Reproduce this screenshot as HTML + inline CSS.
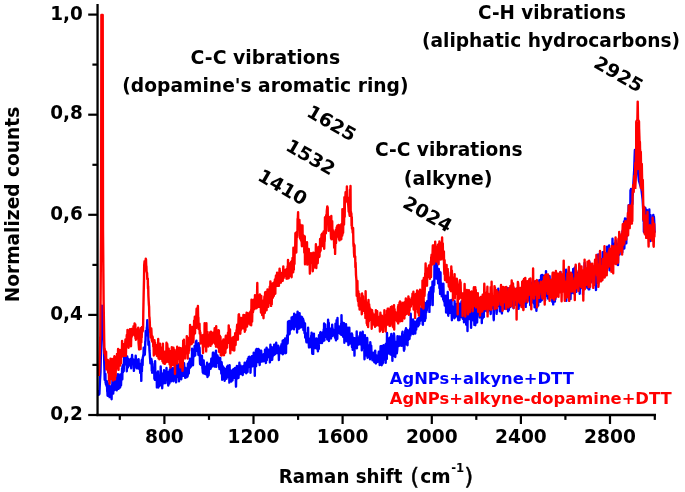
<!DOCTYPE html>
<html><head><meta charset="utf-8"><title>Raman spectra</title>
<style>html,body{margin:0;padding:0;background:#fff}body{width:685px;height:492px;overflow:hidden}</style>
</head><body>
<svg width="685" height="492" viewBox="0 0 685 492" style="display:block" font-family='"DejaVu Sans", "Liberation Sans", sans-serif' font-weight="bold" fill="#000">
<rect width="685" height="492" fill="#fff"/>
<path d="M98.3,396 L98.8,391 L99.4,394 L100,380 L100.5,372 L101.2,340 L101.9,305.6 L102.4,306 L103.5,336 L104.0,352 L104.4,368 L104.7,379.8 L104.9,378.9 L105.1,380.4 L105.4,373.9 L105.6,382.7 L105.8,383.0 L106.0,384.6 L106.3,382.8 L106.5,385.8 L106.7,384.4 L106.9,381.3 L107.2,391.3 L107.4,391.7 L107.6,395.8 L107.8,389.2 L108.0,387.7 L108.3,387.6 L108.5,383.5 L108.7,394.5 L108.9,385.6 L109.2,385.4 L109.4,389.7 L109.6,397.1 L109.8,391.9 L110.1,386.6 L110.3,388.0 L110.5,393.9 L110.7,390.7 L110.9,388.2 L111.2,390.3 L111.4,394.2 L111.6,399.2 L111.8,385.1 L112.1,387.5 L112.3,386.4 L112.5,379.2 L112.7,385.4 L113.0,384.7 L113.2,393.6 L113.4,387.9 L113.6,381.2 L113.8,390.7 L114.1,386.1 L114.3,379.9 L114.5,384.5 L114.7,384.3 L115.0,382.8 L115.2,386.4 L115.4,376.3 L115.6,384.5 L115.8,389.7 L116.1,388.7 L116.3,389.5 L116.5,389.2 L116.7,390.4 L117.0,378.9 L117.2,387.0 L117.4,375.1 L117.6,380.2 L117.9,374.2 L118.1,386.6 L118.3,387.5 L118.5,380.6 L118.7,388.8 L119.0,377.9 L119.2,381.1 L119.4,380.8 L119.6,375.3 L119.9,381.4 L120.1,387.5 L120.3,374.5 L120.5,382.4 L120.8,377.6 L121.0,385.5 L121.2,379.7 L121.4,380.2 L121.6,379.5 L121.9,376.6 L122.1,368.4 L122.3,379.2 L122.5,366.1 L122.8,371.8 L123.0,372.2 L123.2,364.8 L123.4,367.9 L123.7,371.1 L123.9,364.7 L124.1,359.8 L124.3,349.9 L124.5,357.1 L124.8,358.6 L125.0,359.1 L125.2,357.3 L125.4,363.2 L125.7,359.3 L125.9,361.4 L126.1,364.9 L126.3,358.3 L126.6,360.8 L126.8,371.3 L127.0,365.8 L127.2,356.5 L127.4,361.8 L127.7,364.6 L127.9,367.5 L128.1,362.8 L128.3,359.9 L128.6,359.1 L128.8,365.0 L129.0,363.6 L129.2,360.0 L129.5,361.5 L129.7,360.5 L129.9,365.4 L130.1,359.4 L130.3,364.5 L130.6,366.0 L130.8,364.5 L131.0,358.8 L131.2,368.2 L131.5,359.5 L131.7,364.3 L131.9,359.3 L132.1,355.0 L132.4,363.5 L132.6,363.8 L132.8,362.2 L133.0,363.8 L133.2,359.8 L133.5,359.5 L133.7,361.9 L133.9,370.9 L134.1,366.2 L134.4,360.5 L134.6,365.1 L134.8,360.7 L135.0,360.8 L135.3,366.5 L135.5,360.5 L135.7,355.6 L135.9,358.9 L136.1,363.2 L136.4,363.4 L136.6,368.2 L136.8,359.8 L137.0,366.1 L137.3,364.8 L137.5,362.3 L137.7,366.6 L137.9,365.1 L138.1,359.7 L138.4,368.6 L138.6,359.3 L138.8,365.4 L139.0,365.8 L139.3,368.2 L139.5,363.8 L139.7,367.4 L139.9,367.6 L140.2,373.0 L140.4,365.9 L140.6,370.3 L140.8,369.4 L141.0,365.1 L141.3,380.9 L141.5,367.7 L141.7,360.3 L141.9,371.4 L142.2,359.4 L142.4,364.3 L142.6,365.1 L142.8,357.2 L143.1,356.8 L143.3,355.0 L143.5,355.4 L143.7,347.7 L143.9,348.0 L144.2,351.4 L144.4,355.1 L144.6,351.7 L144.8,354.6 L145.1,348.3 L145.3,341.3 L145.5,341.1 L145.7,331.0 L146.0,333.7 L146.2,331.6 L146.4,335.3 L146.6,335.1 L146.8,328.0 L147.1,326.1 L147.3,320.1 L147.5,324.6 L147.7,329.0 L148.0,332.6 L148.2,330.1 L148.4,344.8 L148.6,344.2 L148.9,341.4 L149.1,342.3 L149.3,345.9 L149.5,350.7 L149.7,352.8 L150.0,357.7 L150.2,360.0 L150.4,363.4 L150.6,363.3 L150.9,358.8 L151.1,361.7 L151.3,359.2 L151.5,359.2 L151.8,370.8 L152.0,361.4 L152.2,372.8 L152.4,363.6 L152.6,367.0 L152.9,371.4 L153.1,367.7 L153.3,370.1 L153.5,368.2 L153.8,368.1 L154.0,370.2 L154.2,368.5 L154.4,378.7 L154.7,371.3 L154.9,379.7 L155.1,361.1 L155.3,373.1 L155.5,375.7 L155.8,372.4 L156.0,378.7 L156.2,377.1 L156.4,373.5 L156.7,376.9 L156.9,387.4 L157.1,376.7 L157.3,377.3 L157.6,374.4 L157.8,377.2 L158.0,371.5 L158.2,376.1 L158.4,387.5 L158.7,381.5 L158.9,379.7 L159.1,381.6 L159.3,384.9 L159.6,379.4 L159.8,385.7 L160.0,381.4 L160.2,377.5 L160.4,384.1 L160.7,366.5 L160.9,374.2 L161.1,377.8 L161.3,372.7 L161.6,375.9 L161.8,373.8 L162.0,373.7 L162.2,388.2 L162.5,379.2 L162.7,376.2 L162.9,382.1 L163.1,375.4 L163.3,380.2 L163.6,377.9 L163.8,383.3 L164.0,370.2 L164.2,379.6 L164.5,376.8 L164.7,371.2 L164.9,380.8 L165.1,372.4 L165.4,383.1 L165.6,378.3 L165.8,379.1 L166.0,376.4 L166.2,379.9 L166.5,368.0 L166.7,376.3 L166.9,373.2 L167.1,377.1 L167.4,375.6 L167.6,378.4 L167.8,372.1 L168.0,383.5 L168.3,385.5 L168.5,374.6 L168.7,375.4 L168.9,376.6 L169.1,380.8 L169.4,383.5 L169.6,370.1 L169.8,372.5 L170.0,370.6 L170.3,370.3 L170.5,368.0 L170.7,376.5 L170.9,369.9 L171.2,381.3 L171.4,378.7 L171.6,370.3 L171.8,370.3 L172.0,372.0 L172.3,380.6 L172.5,370.9 L172.7,368.1 L172.9,374.2 L173.2,376.0 L173.4,371.5 L173.6,381.2 L173.8,375.2 L174.1,376.1 L174.3,370.4 L174.5,373.9 L174.7,373.3 L174.9,364.2 L175.2,375.1 L175.4,366.1 L175.6,373.7 L175.8,367.4 L176.1,382.4 L176.3,375.0 L176.5,377.3 L176.7,377.5 L177.0,367.8 L177.2,363.6 L177.4,371.9 L177.6,377.1 L177.8,373.6 L178.1,376.6 L178.3,377.2 L178.5,366.7 L178.7,374.3 L179.0,381.4 L179.2,370.5 L179.4,364.1 L179.6,371.8 L179.9,370.7 L180.1,374.5 L180.3,368.8 L180.5,373.0 L180.7,363.0 L181.0,376.1 L181.2,379.2 L181.4,377.9 L181.6,365.8 L181.9,373.6 L182.1,359.4 L182.3,373.4 L182.5,371.8 L182.7,367.8 L183.0,373.5 L183.2,372.5 L183.4,375.9 L183.6,372.4 L183.9,372.8 L184.1,363.3 L184.3,366.7 L184.5,369.6 L184.8,372.8 L185.0,371.5 L185.2,377.9 L185.4,367.6 L185.6,370.3 L185.9,372.4 L186.1,370.2 L186.3,373.3 L186.5,368.7 L186.8,377.2 L187.0,369.6 L187.2,375.5 L187.4,370.2 L187.7,376.4 L187.9,363.7 L188.1,371.6 L188.3,367.2 L188.5,369.7 L188.8,373.5 L189.0,363.1 L189.2,362.0 L189.4,363.0 L189.7,368.1 L189.9,358.6 L190.1,366.8 L190.3,360.5 L190.6,360.7 L190.8,363.7 L191.0,366.6 L191.2,361.3 L191.4,361.0 L191.7,361.9 L191.9,360.0 L192.1,348.7 L192.3,357.4 L192.6,358.7 L192.8,362.1 L193.0,365.2 L193.2,358.3 L193.5,354.8 L193.7,349.4 L193.9,353.0 L194.1,355.0 L194.3,356.1 L194.6,346.0 L194.8,350.0 L195.0,351.7 L195.2,355.4 L195.5,347.7 L195.7,343.5 L195.9,342.1 L196.1,342.8 L196.4,340.7 L196.6,346.8 L196.8,348.7 L197.0,348.0 L197.2,350.8 L197.5,344.5 L197.7,348.9 L197.9,346.4 L198.1,349.1 L198.4,355.0 L198.6,350.4 L198.8,343.3 L199.0,351.0 L199.3,350.0 L199.5,347.6 L199.7,351.6 L199.9,360.1 L200.1,364.1 L200.4,355.8 L200.6,363.1 L200.8,364.9 L201.0,355.7 L201.3,361.0 L201.5,361.4 L201.7,362.8 L201.9,355.7 L202.2,361.5 L202.4,368.0 L202.6,369.4 L202.8,372.3 L203.0,363.4 L203.3,373.4 L203.5,368.7 L203.7,360.5 L203.9,370.0 L204.2,365.7 L204.4,369.9 L204.6,367.7 L204.8,373.8 L205.0,370.1 L205.3,367.8 L205.5,373.1 L205.7,370.1 L205.9,367.2 L206.2,374.5 L206.4,367.2 L206.6,366.3 L206.8,366.7 L207.1,362.7 L207.3,366.6 L207.5,377.0 L207.7,365.1 L207.9,369.0 L208.2,364.2 L208.4,366.4 L208.6,375.5 L208.8,372.9 L209.1,366.4 L209.3,369.0 L209.5,365.4 L209.7,365.0 L210.0,363.9 L210.2,363.4 L210.4,368.1 L210.6,368.8 L210.8,367.7 L211.1,364.3 L211.3,358.7 L211.5,363.7 L211.7,359.4 L212.0,366.6 L212.2,364.7 L212.4,364.9 L212.6,359.7 L212.9,352.8 L213.1,364.2 L213.3,364.8 L213.5,352.6 L213.7,359.6 L214.0,364.1 L214.2,354.4 L214.4,366.6 L214.6,357.5 L214.9,354.4 L215.1,364.9 L215.3,360.3 L215.5,356.2 L215.8,362.8 L216.0,350.6 L216.2,366.8 L216.4,355.5 L216.6,360.2 L216.9,357.3 L217.1,360.9 L217.3,362.8 L217.5,355.5 L217.8,362.8 L218.0,358.8 L218.2,357.7 L218.4,360.3 L218.7,357.5 L218.9,359.0 L219.1,367.1 L219.3,363.0 L219.5,369.1 L219.8,366.7 L220.0,361.0 L220.2,357.9 L220.4,363.7 L220.7,368.3 L220.9,367.8 L221.1,364.8 L221.3,373.4 L221.6,362.1 L221.8,364.6 L222.0,370.7 L222.2,379.7 L222.4,372.2 L222.7,366.3 L222.9,373.3 L223.1,373.8 L223.3,375.0 L223.6,369.4 L223.8,367.8 L224.0,371.9 L224.2,373.3 L224.5,378.5 L224.7,380.8 L224.9,368.8 L225.1,369.8 L225.3,371.9 L225.6,371.3 L225.8,374.6 L226.0,374.7 L226.2,373.8 L226.5,378.7 L226.7,372.3 L226.9,368.6 L227.1,366.6 L227.3,369.0 L227.6,369.1 L227.8,365.6 L228.0,376.7 L228.2,374.7 L228.5,372.3 L228.7,370.4 L228.9,367.5 L229.1,370.5 L229.4,382.6 L229.6,365.2 L229.8,375.5 L230.0,378.2 L230.2,375.7 L230.5,373.9 L230.7,378.7 L230.9,370.8 L231.1,377.9 L231.4,381.5 L231.6,370.7 L231.8,371.5 L232.0,375.5 L232.3,379.0 L232.5,380.4 L232.7,377.4 L232.9,371.5 L233.1,369.4 L233.4,375.1 L233.6,375.6 L233.8,369.0 L234.0,373.9 L234.3,374.9 L234.5,377.8 L234.7,368.9 L234.9,375.4 L235.2,367.9 L235.4,370.9 L235.6,372.3 L235.8,379.0 L236.0,386.6 L236.3,373.3 L236.5,374.2 L236.7,376.2 L236.9,365.9 L237.2,374.9 L237.4,366.1 L237.6,378.3 L237.8,377.4 L238.1,373.2 L238.3,367.4 L238.5,377.9 L238.7,371.7 L238.9,371.0 L239.2,372.8 L239.4,362.8 L239.6,371.9 L239.8,374.2 L240.1,371.3 L240.3,370.3 L240.5,365.4 L240.7,372.2 L241.0,370.1 L241.2,369.1 L241.4,366.5 L241.6,372.5 L241.8,374.1 L242.1,370.2 L242.3,372.3 L242.5,374.0 L242.7,375.0 L243.0,369.0 L243.2,367.0 L243.4,365.9 L243.6,367.7 L243.9,369.8 L244.1,371.4 L244.3,365.3 L244.5,367.7 L244.7,362.6 L245.0,372.2 L245.2,364.9 L245.4,368.0 L245.6,363.2 L245.9,364.9 L246.1,363.1 L246.3,373.2 L246.5,367.2 L246.8,364.8 L247.0,361.3 L247.2,362.6 L247.4,367.5 L247.6,372.0 L247.9,358.6 L248.1,360.6 L248.3,363.6 L248.5,361.5 L248.8,356.9 L249.0,364.0 L249.2,367.0 L249.4,356.8 L249.6,364.3 L249.9,367.4 L250.1,367.3 L250.3,361.1 L250.5,372.7 L250.8,365.0 L251.0,358.9 L251.2,366.5 L251.4,357.3 L251.7,365.8 L251.9,356.3 L252.1,365.0 L252.3,358.9 L252.5,366.2 L252.8,364.3 L253.0,362.9 L253.2,361.1 L253.4,365.3 L253.7,352.7 L253.9,362.2 L254.1,361.9 L254.3,362.4 L254.6,363.4 L254.8,375.7 L255.0,360.0 L255.2,362.8 L255.4,359.8 L255.7,365.8 L255.9,350.2 L256.1,366.2 L256.3,355.8 L256.6,348.9 L256.8,354.0 L257.0,357.9 L257.2,359.4 L257.5,358.3 L257.7,362.0 L257.9,358.2 L258.1,358.0 L258.3,348.9 L258.6,360.3 L258.8,362.5 L259.0,356.2 L259.2,349.8 L259.5,352.1 L259.7,365.1 L259.9,355.1 L260.1,354.8 L260.4,354.1 L260.6,360.5 L260.8,354.9 L261.0,353.6 L261.2,350.8 L261.5,356.8 L261.7,361.6 L261.9,356.5 L262.1,361.0 L262.4,357.8 L262.6,357.6 L262.8,357.7 L263.0,357.0 L263.3,361.3 L263.5,358.8 L263.7,354.1 L263.9,357.1 L264.1,356.2 L264.4,358.6 L264.6,357.2 L264.8,358.1 L265.0,349.8 L265.3,357.9 L265.5,361.9 L265.7,350.1 L265.9,363.0 L266.2,357.2 L266.4,354.8 L266.6,347.6 L266.8,360.2 L267.0,351.1 L267.3,352.9 L267.5,357.5 L267.7,350.4 L267.9,350.4 L268.2,349.6 L268.4,354.0 L268.6,357.0 L268.8,356.0 L269.1,355.9 L269.3,352.5 L269.5,354.5 L269.7,350.7 L269.9,362.4 L270.2,354.3 L270.4,344.7 L270.6,348.5 L270.8,360.2 L271.1,346.9 L271.3,350.9 L271.5,354.5 L271.7,347.7 L271.9,357.1 L272.2,359.7 L272.4,348.5 L272.6,357.0 L272.8,347.9 L273.1,347.3 L273.3,352.7 L273.5,352.5 L273.7,348.7 L274.0,355.0 L274.2,344.6 L274.4,347.1 L274.6,346.0 L274.8,354.1 L275.1,354.1 L275.3,353.4 L275.5,344.5 L275.7,350.7 L276.0,352.1 L276.2,342.8 L276.4,346.3 L276.6,352.8 L276.9,353.0 L277.1,351.0 L277.3,352.2 L277.5,351.2 L277.7,350.4 L278.0,349.2 L278.2,345.8 L278.4,348.6 L278.6,347.8 L278.9,360.0 L279.1,350.7 L279.3,349.5 L279.5,348.5 L279.8,349.0 L280.0,348.2 L280.2,351.9 L280.4,349.3 L280.6,353.0 L280.9,346.2 L281.1,350.9 L281.3,353.2 L281.5,344.1 L281.8,350.0 L282.0,350.3 L282.2,347.6 L282.4,346.9 L282.7,340.7 L282.9,354.2 L283.1,344.8 L283.3,343.3 L283.5,351.6 L283.8,340.1 L284.0,352.5 L284.2,349.9 L284.4,350.4 L284.7,346.7 L284.9,341.7 L285.1,338.4 L285.3,353.3 L285.6,344.4 L285.8,343.9 L286.0,353.1 L286.2,342.0 L286.4,342.6 L286.7,341.4 L286.9,340.6 L287.1,335.4 L287.3,336.3 L287.6,343.5 L287.8,339.9 L288.0,321.8 L288.2,325.2 L288.5,334.4 L288.7,331.2 L288.9,328.8 L289.1,334.4 L289.3,321.0 L289.6,333.9 L289.8,328.5 L290.0,329.8 L290.2,327.9 L290.5,330.0 L290.7,324.4 L290.9,322.5 L291.1,327.9 L291.4,324.6 L291.6,317.5 L291.8,328.7 L292.0,327.5 L292.2,328.0 L292.5,321.4 L292.7,322.6 L292.9,319.3 L293.1,316.6 L293.4,321.3 L293.6,321.8 L293.8,318.0 L294.0,329.3 L294.2,313.6 L294.5,317.3 L294.7,317.9 L294.9,326.9 L295.1,319.8 L295.4,319.5 L295.6,317.0 L295.8,317.5 L296.0,315.0 L296.3,325.6 L296.5,323.8 L296.7,325.5 L296.9,318.0 L297.1,332.5 L297.4,316.5 L297.6,311.6 L297.8,319.7 L298.0,321.6 L298.3,324.5 L298.5,316.3 L298.7,323.7 L298.9,328.8 L299.2,317.1 L299.4,317.6 L299.6,313.2 L299.8,322.1 L300.0,324.9 L300.3,324.5 L300.5,324.8 L300.7,327.5 L300.9,321.6 L301.2,325.4 L301.4,316.6 L301.6,317.4 L301.8,322.1 L302.1,317.2 L302.3,323.6 L302.5,327.3 L302.7,323.0 L302.9,318.6 L303.2,319.4 L303.4,330.0 L303.6,320.9 L303.8,325.9 L304.1,325.2 L304.3,327.5 L304.5,333.2 L304.7,326.5 L305.0,323.4 L305.2,337.5 L305.4,332.7 L305.6,335.9 L305.8,333.3 L306.1,337.9 L306.3,341.0 L306.5,342.4 L306.7,335.6 L307.0,335.5 L307.2,339.3 L307.4,338.7 L307.6,340.7 L307.9,335.0 L308.1,327.8 L308.3,341.0 L308.5,342.8 L308.7,342.5 L309.0,347.5 L309.2,344.1 L309.4,338.6 L309.6,345.3 L309.9,340.6 L310.1,347.1 L310.3,342.7 L310.5,344.0 L310.8,343.2 L311.0,342.7 L311.2,335.8 L311.4,343.3 L311.6,332.7 L311.9,346.0 L312.1,348.6 L312.3,353.8 L312.5,346.3 L312.8,341.5 L313.0,337.5 L313.2,353.9 L313.4,338.0 L313.7,348.7 L313.9,333.6 L314.1,344.0 L314.3,347.3 L314.5,345.4 L314.8,343.6 L315.0,339.8 L315.2,339.2 L315.4,348.1 L315.7,345.2 L315.9,342.3 L316.1,343.9 L316.3,338.4 L316.5,347.4 L316.8,348.4 L317.0,338.7 L317.2,342.6 L317.4,346.9 L317.7,338.9 L317.9,351.3 L318.1,348.7 L318.3,340.1 L318.6,345.9 L318.8,349.0 L319.0,335.1 L319.2,343.6 L319.4,339.7 L319.7,339.1 L319.9,343.1 L320.1,337.2 L320.3,332.5 L320.6,332.1 L320.8,338.4 L321.0,341.2 L321.2,337.8 L321.5,336.9 L321.7,337.1 L321.9,343.1 L322.1,339.2 L322.3,332.8 L322.6,334.7 L322.8,341.4 L323.0,332.7 L323.2,333.3 L323.5,334.7 L323.7,329.5 L323.9,338.5 L324.1,323.5 L324.4,340.5 L324.6,331.2 L324.8,327.0 L325.0,334.0 L325.2,324.5 L325.5,335.1 L325.7,336.2 L325.9,329.7 L326.1,330.6 L326.4,336.9 L326.6,329.1 L326.8,332.3 L327.0,333.8 L327.3,339.5 L327.5,329.7 L327.7,332.2 L327.9,337.3 L328.1,319.7 L328.4,330.5 L328.6,322.7 L328.8,322.9 L329.0,341.0 L329.3,332.6 L329.5,338.6 L329.7,330.3 L329.9,334.0 L330.2,329.3 L330.4,328.7 L330.6,330.9 L330.8,331.8 L331.0,338.5 L331.3,330.1 L331.5,332.8 L331.7,329.7 L331.9,331.6 L332.2,324.6 L332.4,336.0 L332.6,328.2 L332.8,330.9 L333.1,329.6 L333.3,335.3 L333.5,333.0 L333.7,330.5 L333.9,331.2 L334.2,332.0 L334.4,333.9 L334.6,332.6 L334.8,336.3 L335.1,337.9 L335.3,333.0 L335.5,323.6 L335.7,338.4 L336.0,340.4 L336.2,328.2 L336.4,328.0 L336.6,320.1 L336.8,333.8 L337.1,325.1 L337.3,338.8 L337.5,318.0 L337.7,330.4 L338.0,333.3 L338.2,328.0 L338.4,326.1 L338.6,331.2 L338.8,327.4 L339.1,328.3 L339.3,329.8 L339.5,327.3 L339.7,328.9 L340.0,333.8 L340.2,328.1 L340.4,330.8 L340.6,326.3 L340.9,334.5 L341.1,323.7 L341.3,334.7 L341.5,315.2 L341.7,325.5 L342.0,322.2 L342.2,335.0 L342.4,331.3 L342.6,323.5 L342.9,327.2 L343.1,336.6 L343.3,329.7 L343.5,332.8 L343.8,322.9 L344.0,323.2 L344.2,333.8 L344.4,342.7 L344.6,328.9 L344.9,334.8 L345.1,327.5 L345.3,338.7 L345.5,330.6 L345.8,331.0 L346.0,324.1 L346.2,331.7 L346.4,335.0 L346.7,341.3 L346.9,328.9 L347.1,340.0 L347.3,333.7 L347.5,334.3 L347.8,331.3 L348.0,327.8 L348.2,330.6 L348.4,345.1 L348.7,331.3 L348.9,335.4 L349.1,343.5 L349.3,327.6 L349.6,340.8 L349.8,336.2 L350.0,339.9 L350.2,343.5 L350.4,338.5 L350.7,338.5 L350.9,343.3 L351.1,343.0 L351.3,336.3 L351.6,339.2 L351.8,333.5 L352.0,347.0 L352.2,334.5 L352.5,341.7 L352.7,349.8 L352.9,345.2 L353.1,339.8 L353.3,337.7 L353.6,338.4 L353.8,346.5 L354.0,343.7 L354.2,342.1 L354.5,355.6 L354.7,338.2 L354.9,340.2 L355.1,340.9 L355.4,344.1 L355.6,344.8 L355.8,342.0 L356.0,347.3 L356.2,346.5 L356.5,342.3 L356.7,331.4 L356.9,348.2 L357.1,339.4 L357.4,341.1 L357.6,343.8 L357.8,338.3 L358.0,340.1 L358.3,344.2 L358.5,341.6 L358.7,344.6 L358.9,338.0 L359.1,340.8 L359.4,336.1 L359.6,339.7 L359.8,342.3 L360.0,339.1 L360.3,332.5 L360.5,338.5 L360.7,339.9 L360.9,344.6 L361.1,338.6 L361.4,337.0 L361.6,333.4 L361.8,350.3 L362.0,335.3 L362.3,334.7 L362.5,340.2 L362.7,331.8 L362.9,347.4 L363.2,343.1 L363.4,345.0 L363.6,337.7 L363.8,340.5 L364.0,348.1 L364.3,348.7 L364.5,359.3 L364.7,350.5 L364.9,335.1 L365.2,345.9 L365.4,343.9 L365.6,352.0 L365.8,346.1 L366.1,349.5 L366.3,345.6 L366.5,350.9 L366.7,355.8 L366.9,345.2 L367.2,338.0 L367.4,343.6 L367.6,357.7 L367.8,350.9 L368.1,348.4 L368.3,345.1 L368.5,356.1 L368.7,352.4 L369.0,350.5 L369.2,348.5 L369.4,350.8 L369.6,350.2 L369.8,355.3 L370.1,359.3 L370.3,342.3 L370.5,345.3 L370.7,352.8 L371.0,354.1 L371.2,345.6 L371.4,350.8 L371.6,352.3 L371.9,352.4 L372.1,352.5 L372.3,354.8 L372.5,360.4 L372.7,359.9 L373.0,359.4 L373.2,357.9 L373.4,352.8 L373.6,354.4 L373.9,361.0 L374.1,358.2 L374.3,362.2 L374.5,359.6 L374.8,358.7 L375.0,361.1 L375.2,350.6 L375.4,358.3 L375.6,355.8 L375.9,363.5 L376.1,355.1 L376.3,359.9 L376.5,356.1 L376.8,360.9 L377.0,362.1 L377.2,356.8 L377.4,358.4 L377.7,358.6 L377.9,361.8 L378.1,355.6 L378.3,357.4 L378.5,354.7 L378.8,351.6 L379.0,357.7 L379.2,358.9 L379.4,352.0 L379.7,365.0 L379.9,352.0 L380.1,360.1 L380.3,357.9 L380.6,346.3 L380.8,355.4 L381.0,346.7 L381.2,354.6 L381.4,358.8 L381.7,365.2 L381.9,359.0 L382.1,346.0 L382.3,352.3 L382.6,362.4 L382.8,354.8 L383.0,363.4 L383.2,349.3 L383.4,350.0 L383.7,345.3 L383.9,350.5 L384.1,359.5 L384.3,347.0 L384.6,356.7 L384.8,354.3 L385.0,356.0 L385.2,349.9 L385.5,351.2 L385.7,362.8 L385.9,343.6 L386.1,354.7 L386.3,358.7 L386.6,352.6 L386.8,359.0 L387.0,332.9 L387.2,347.6 L387.5,342.5 L387.7,346.5 L387.9,348.1 L388.1,351.3 L388.4,343.7 L388.6,353.3 L388.8,339.4 L389.0,353.5 L389.2,346.6 L389.5,337.9 L389.7,337.8 L389.9,337.6 L390.1,341.9 L390.4,348.0 L390.6,354.6 L390.8,351.5 L391.0,339.5 L391.3,334.0 L391.5,345.1 L391.7,338.6 L391.9,345.5 L392.1,342.5 L392.4,360.7 L392.6,336.5 L392.8,347.8 L393.0,356.3 L393.3,343.5 L393.5,341.3 L393.7,355.0 L393.9,333.5 L394.2,335.7 L394.4,338.3 L394.6,347.3 L394.8,349.3 L395.0,344.1 L395.3,357.0 L395.5,343.5 L395.7,344.5 L395.9,342.7 L396.2,351.2 L396.4,344.2 L396.6,341.7 L396.8,353.3 L397.1,350.9 L397.3,349.1 L397.5,336.2 L397.7,337.1 L397.9,341.6 L398.2,341.3 L398.4,340.2 L398.6,341.2 L398.8,346.0 L399.1,336.4 L399.3,343.4 L399.5,339.6 L399.7,338.9 L400.0,339.9 L400.2,345.5 L400.4,342.7 L400.6,336.6 L400.8,342.7 L401.1,341.4 L401.3,342.8 L401.5,338.9 L401.7,345.8 L402.0,342.2 L402.2,333.4 L402.4,332.5 L402.6,331.6 L402.9,341.6 L403.1,335.3 L403.3,337.1 L403.5,338.5 L403.7,345.6 L404.0,350.8 L404.2,337.7 L404.4,349.4 L404.6,341.1 L404.9,344.7 L405.1,336.1 L405.3,330.5 L405.5,340.1 L405.7,344.4 L406.0,328.2 L406.2,336.4 L406.4,337.7 L406.6,339.6 L406.9,329.8 L407.1,332.5 L407.3,340.6 L407.5,345.3 L407.8,335.5 L408.0,340.1 L408.2,335.3 L408.4,336.5 L408.6,331.6 L408.9,332.3 L409.1,330.1 L409.3,333.6 L409.5,339.0 L409.8,333.6 L410.0,335.9 L410.2,328.4 L410.4,335.7 L410.7,313.7 L410.9,323.1 L411.1,329.0 L411.3,320.4 L411.5,333.5 L411.8,331.2 L412.0,324.6 L412.2,330.1 L412.4,320.8 L412.7,323.9 L412.9,326.6 L413.1,319.4 L413.3,334.1 L413.6,324.2 L413.8,333.4 L414.0,326.6 L414.2,328.9 L414.4,321.7 L414.7,324.9 L414.9,324.0 L415.1,327.4 L415.3,333.5 L415.6,322.4 L415.8,324.4 L416.0,327.0 L416.2,329.6 L416.5,323.8 L416.7,322.0 L416.9,320.5 L417.1,323.5 L417.3,324.5 L417.6,319.0 L417.8,320.7 L418.0,326.4 L418.2,321.7 L418.5,318.3 L418.7,325.1 L418.9,324.8 L419.1,323.9 L419.4,323.9 L419.6,317.6 L419.8,320.6 L420.0,320.9 L420.2,319.5 L420.5,308.6 L420.7,318.1 L420.9,319.8 L421.1,320.3 L421.4,315.5 L421.6,317.0 L421.8,306.4 L422.0,307.8 L422.3,299.2 L422.5,314.2 L422.7,324.3 L422.9,324.7 L423.1,308.2 L423.4,317.8 L423.6,320.9 L423.8,311.8 L424.0,302.2 L424.3,320.8 L424.5,310.5 L424.7,309.8 L424.9,320.9 L425.2,313.4 L425.4,314.9 L425.6,318.5 L425.8,308.1 L426.0,302.9 L426.3,312.2 L426.5,307.2 L426.7,310.8 L426.9,308.3 L427.2,301.2 L427.4,305.0 L427.6,302.4 L427.8,302.4 L428.0,302.9 L428.3,304.5 L428.5,303.1 L428.7,294.2 L428.9,304.2 L429.2,292.1 L429.4,311.9 L429.6,294.6 L429.8,298.0 L430.1,305.2 L430.3,296.0 L430.5,289.4 L430.7,287.6 L430.9,296.0 L431.2,295.5 L431.4,296.7 L431.6,292.4 L431.8,287.0 L432.1,291.2 L432.3,295.4 L432.5,281.7 L432.7,305.0 L433.0,281.4 L433.2,289.6 L433.4,292.0 L433.6,285.4 L433.8,280.8 L434.1,282.1 L434.3,285.0 L434.5,262.1 L434.7,278.9 L435.0,273.5 L435.2,271.3 L435.4,275.2 L435.6,275.0 L435.9,276.2 L436.1,269.5 L436.3,278.6 L436.5,259.9 L436.7,265.9 L437.0,265.3 L437.2,273.5 L437.4,270.9 L437.6,277.5 L437.9,270.9 L438.1,283.3 L438.3,281.1 L438.5,274.8 L438.8,269.0 L439.0,272.6 L439.2,271.4 L439.4,287.9 L439.6,286.0 L439.9,275.4 L440.1,293.9 L440.3,282.5 L440.5,272.4 L440.8,292.0 L441.0,294.1 L441.2,287.6 L441.4,283.4 L441.7,296.2 L441.9,287.3 L442.1,290.9 L442.3,294.5 L442.5,294.4 L442.8,290.9 L443.0,288.5 L443.2,299.4 L443.4,283.7 L443.7,298.8 L443.9,299.3 L444.1,301.6 L444.3,297.4 L444.6,301.5 L444.8,305.6 L445.0,296.1 L445.2,302.6 L445.4,304.7 L445.7,295.8 L445.9,297.9 L446.1,312.4 L446.3,309.6 L446.6,299.9 L446.8,308.4 L447.0,307.0 L447.2,312.9 L447.5,311.7 L447.7,292.0 L447.9,304.2 L448.1,313.9 L448.3,315.7 L448.6,303.3 L448.8,300.2 L449.0,308.8 L449.2,304.1 L449.5,307.9 L449.7,301.7 L449.9,312.9 L450.1,312.1 L450.3,311.7 L450.6,303.3 L450.8,300.3 L451.0,302.8 L451.2,312.9 L451.5,300.0 L451.7,313.9 L451.9,320.2 L452.1,306.7 L452.4,309.3 L452.6,316.0 L452.8,315.6 L453.0,307.0 L453.2,309.6 L453.5,311.3 L453.7,309.2 L453.9,314.0 L454.1,312.7 L454.4,318.3 L454.6,301.2 L454.8,317.7 L455.0,315.7 L455.3,310.3 L455.5,313.5 L455.7,316.8 L455.9,313.0 L456.1,309.9 L456.4,313.0 L456.6,307.4 L456.8,304.0 L457.0,306.5 L457.3,307.2 L457.5,312.7 L457.7,316.3 L457.9,313.2 L458.2,320.2 L458.4,311.4 L458.6,308.2 L458.8,307.8 L459.0,306.8 L459.3,310.3 L459.5,320.1 L459.7,303.7 L459.9,315.5 L460.2,312.3 L460.4,317.3 L460.6,309.8 L460.8,316.8 L461.1,309.7 L461.3,316.3 L461.5,301.4 L461.7,315.6 L461.9,317.1 L462.2,303.6 L462.4,317.8 L462.6,306.3 L462.8,318.7 L463.1,313.0 L463.3,317.0 L463.5,315.3 L463.7,306.1 L464.0,322.2 L464.2,320.3 L464.4,307.3 L464.6,316.6 L464.8,316.0 L465.1,309.4 L465.3,307.3 L465.5,321.0 L465.7,311.1 L466.0,318.8 L466.2,324.7 L466.4,316.4 L466.6,308.4 L466.9,319.4 L467.1,305.5 L467.3,308.3 L467.5,331.1 L467.7,309.0 L468.0,315.9 L468.2,307.5 L468.4,313.1 L468.6,315.1 L468.9,298.2 L469.1,310.0 L469.3,317.9 L469.5,319.1 L469.8,316.0 L470.0,308.4 L470.2,316.4 L470.4,311.1 L470.6,309.5 L470.9,314.1 L471.1,327.7 L471.3,308.7 L471.5,320.4 L471.8,315.7 L472.0,305.3 L472.2,308.8 L472.4,313.2 L472.6,311.5 L472.9,315.9 L473.1,308.4 L473.3,308.3 L473.5,320.4 L473.8,314.0 L474.0,309.0 L474.2,314.0 L474.4,324.9 L474.7,310.2 L474.9,304.6 L475.1,319.1 L475.3,325.2 L475.5,320.8 L475.8,305.1 L476.0,300.4 L476.2,320.5 L476.4,311.6 L476.7,315.6 L476.9,311.2 L477.1,322.5 L477.3,312.5 L477.6,310.0 L477.8,312.7 L478.0,304.4 L478.2,312.5 L478.4,310.9 L478.7,298.3 L478.9,304.1 L479.1,303.3 L479.3,301.2 L479.6,312.9 L479.8,317.5 L480.0,312.4 L480.2,301.2 L480.5,299.2 L480.7,314.8 L480.9,308.0 L481.1,309.1 L481.3,301.6 L481.6,296.9 L481.8,323.0 L482.0,305.4 L482.2,307.8 L482.5,301.8 L482.7,318.2 L482.9,306.4 L483.1,307.5 L483.4,308.6 L483.6,308.1 L483.8,316.9 L484.0,296.6 L484.2,311.7 L484.5,303.8 L484.7,305.0 L484.9,303.5 L485.1,309.9 L485.4,299.2 L485.6,303.8 L485.8,310.6 L486.0,303.4 L486.3,303.9 L486.5,309.2 L486.7,307.3 L486.9,304.6 L487.1,307.0 L487.4,301.0 L487.6,311.9 L487.8,299.6 L488.0,296.3 L488.3,308.9 L488.5,297.9 L488.7,300.1 L488.9,304.7 L489.2,310.4 L489.4,302.9 L489.6,303.0 L489.8,303.0 L490.0,308.0 L490.3,302.4 L490.5,307.0 L490.7,314.0 L490.9,303.9 L491.2,302.9 L491.4,299.3 L491.6,300.3 L491.8,297.2 L492.1,298.0 L492.3,301.2 L492.5,307.0 L492.7,307.8 L492.9,301.9 L493.2,306.6 L493.4,296.3 L493.6,317.7 L493.8,320.2 L494.1,303.6 L494.3,307.5 L494.5,304.8 L494.7,309.1 L494.9,300.0 L495.2,294.3 L495.4,309.1 L495.6,296.9 L495.8,306.1 L496.1,297.8 L496.3,298.7 L496.5,309.9 L496.7,313.9 L497.0,302.5 L497.2,300.7 L497.4,305.3 L497.6,299.7 L497.8,292.0 L498.1,303.0 L498.3,288.6 L498.5,305.8 L498.7,299.7 L499.0,304.1 L499.2,293.3 L499.4,297.9 L499.6,306.3 L499.9,311.4 L500.1,308.0 L500.3,304.9 L500.5,295.1 L500.7,306.0 L501.0,303.1 L501.2,300.1 L501.4,310.6 L501.6,297.0 L501.9,313.4 L502.1,297.7 L502.3,297.4 L502.5,301.1 L502.8,293.1 L503.0,298.6 L503.2,302.1 L503.4,290.4 L503.6,296.0 L503.9,292.3 L504.1,298.4 L504.3,308.7 L504.5,298.3 L504.8,299.9 L505.0,302.5 L505.2,293.7 L505.4,302.4 L505.7,297.4 L505.9,296.5 L506.1,289.4 L506.3,296.4 L506.5,307.3 L506.8,308.4 L507.0,298.5 L507.2,300.8 L507.4,297.5 L507.7,293.0 L507.9,288.3 L508.1,311.3 L508.3,293.5 L508.6,301.4 L508.8,310.2 L509.0,297.3 L509.2,298.7 L509.4,301.5 L509.7,297.4 L509.9,301.3 L510.1,297.4 L510.3,307.1 L510.6,302.8 L510.8,291.6 L511.0,290.6 L511.2,295.1 L511.5,295.3 L511.7,294.4 L511.9,305.4 L512.1,294.4 L512.3,296.1 L512.6,300.0 L512.8,285.8 L513.0,301.8 L513.2,302.8 L513.5,308.2 L513.7,292.2 L513.9,295.6 L514.1,300.1 L514.4,296.1 L514.6,288.8 L514.8,304.5 L515.0,296.5 L515.2,300.7 L515.5,291.1 L515.7,304.7 L515.9,295.9 L516.1,293.3 L516.4,303.4 L516.6,305.4 L516.8,291.7 L517.0,304.6 L517.2,308.7 L517.5,299.5 L517.7,288.2 L517.9,301.5 L518.1,304.7 L518.4,290.6 L518.6,308.7 L518.8,296.1 L519.0,296.5 L519.3,304.6 L519.5,298.6 L519.7,305.6 L519.9,297.0 L520.1,299.6 L520.4,297.1 L520.6,298.5 L520.8,300.8 L521.0,300.0 L521.3,294.6 L521.5,303.0 L521.7,295.9 L521.9,304.6 L522.2,300.6 L522.4,295.7 L522.6,291.3 L522.8,296.5 L523.0,305.6 L523.3,297.4 L523.5,302.6 L523.7,295.4 L523.9,293.7 L524.2,291.1 L524.4,282.5 L524.6,297.8 L524.8,295.8 L525.1,295.2 L525.3,300.8 L525.5,288.6 L525.7,306.9 L525.9,285.2 L526.2,296.8 L526.4,286.9 L526.6,293.1 L526.8,302.8 L527.1,284.6 L527.3,296.0 L527.5,295.4 L527.7,295.8 L528.0,296.2 L528.2,299.9 L528.4,297.7 L528.6,296.9 L528.8,300.3 L529.1,298.7 L529.3,293.2 L529.5,285.5 L529.7,299.4 L530.0,291.4 L530.2,305.1 L530.4,289.8 L530.6,285.3 L530.9,301.3 L531.1,288.3 L531.3,283.0 L531.5,301.4 L531.7,283.1 L532.0,302.2 L532.2,286.4 L532.4,295.8 L532.6,294.4 L532.9,280.2 L533.1,292.6 L533.3,289.7 L533.5,293.4 L533.8,296.2 L534.0,303.4 L534.2,290.7 L534.4,291.6 L534.6,307.2 L534.9,297.2 L535.1,297.3 L535.3,281.3 L535.5,282.2 L535.8,288.0 L536.0,290.4 L536.2,295.1 L536.4,310.7 L536.7,282.8 L536.9,288.6 L537.1,295.8 L537.3,293.2 L537.5,299.1 L537.8,289.1 L538.0,284.8 L538.2,305.6 L538.4,294.0 L538.7,282.4 L538.9,288.3 L539.1,290.2 L539.3,280.1 L539.5,295.9 L539.8,291.5 L540.0,287.7 L540.2,285.6 L540.4,301.7 L540.7,289.5 L540.9,284.5 L541.1,275.5 L541.3,282.3 L541.6,294.6 L541.8,300.2 L542.0,281.3 L542.2,275.0 L542.4,289.6 L542.7,289.0 L542.9,295.3 L543.1,284.1 L543.3,289.8 L543.6,275.8 L543.8,280.2 L544.0,285.0 L544.2,285.6 L544.5,292.5 L544.7,297.3 L544.9,278.5 L545.1,300.4 L545.3,283.1 L545.6,285.3 L545.8,296.3 L546.0,271.1 L546.2,277.8 L546.5,282.2 L546.7,288.7 L546.9,295.8 L547.1,295.9 L547.4,281.5 L547.6,293.3 L547.8,284.9 L548.0,298.5 L548.2,285.9 L548.5,295.4 L548.7,280.4 L548.9,293.3 L549.1,277.9 L549.4,288.5 L549.6,276.1 L549.8,286.6 L550.0,281.9 L550.3,280.6 L550.5,289.3 L550.7,293.1 L550.9,288.3 L551.1,289.7 L551.4,292.6 L551.6,296.1 L551.8,294.7 L552.0,290.2 L552.3,301.6 L552.5,283.6 L552.7,293.0 L552.9,278.9 L553.2,304.4 L553.4,285.3 L553.6,288.2 L553.8,297.0 L554.0,285.6 L554.3,280.8 L554.5,273.5 L554.7,284.8 L554.9,301.6 L555.2,287.9 L555.4,299.2 L555.6,292.6 L555.8,283.3 L556.1,276.3 L556.3,285.1 L556.5,290.9 L556.7,284.8 L556.9,287.6 L557.2,290.5 L557.4,283.6 L557.6,275.6 L557.8,283.7 L558.1,290.2 L558.3,280.0 L558.5,278.3 L558.7,278.6 L559.0,284.1 L559.2,284.9 L559.4,285.3 L559.6,276.4 L559.8,285.9 L560.1,281.0 L560.3,278.6 L560.5,272.0 L560.7,277.3 L561.0,280.9 L561.2,286.4 L561.4,288.3 L561.6,285.5 L561.8,286.9 L562.1,276.9 L562.3,291.0 L562.5,291.1 L562.7,290.1 L563.0,281.4 L563.2,284.4 L563.4,281.6 L563.6,275.3 L563.9,282.4 L564.1,273.6 L564.3,271.9 L564.5,288.9 L564.7,288.8 L565.0,290.8 L565.2,281.5 L565.4,284.9 L565.6,288.5 L565.9,281.9 L566.1,269.7 L566.3,300.9 L566.5,293.5 L566.8,293.5 L567.0,285.0 L567.2,278.4 L567.4,284.8 L567.6,286.2 L567.9,274.0 L568.1,280.5 L568.3,288.0 L568.5,294.9 L568.8,288.2 L569.0,280.8 L569.2,274.3 L569.4,298.4 L569.7,284.4 L569.9,289.0 L570.1,283.6 L570.3,273.5 L570.5,299.1 L570.8,288.0 L571.0,292.0 L571.2,277.2 L571.4,282.7 L571.7,292.8 L571.9,280.1 L572.1,277.4 L572.3,274.3 L572.6,272.5 L572.8,288.4 L573.0,281.9 L573.2,269.0 L573.4,293.2 L573.7,291.4 L573.9,290.4 L574.1,268.4 L574.3,282.5 L574.6,291.2 L574.8,274.0 L575.0,275.7 L575.2,279.7 L575.5,266.6 L575.7,282.9 L575.9,288.4 L576.1,286.0 L576.3,291.9 L576.6,281.6 L576.8,280.6 L577.0,279.4 L577.2,275.6 L577.5,272.8 L577.7,275.1 L577.9,279.8 L578.1,276.4 L578.4,281.0 L578.6,280.7 L578.8,284.8 L579.0,276.2 L579.2,264.8 L579.5,272.8 L579.7,293.7 L579.9,285.2 L580.1,276.6 L580.4,278.0 L580.6,278.8 L580.8,275.9 L581.0,280.7 L581.3,284.2 L581.5,288.0 L581.7,276.4 L581.9,276.8 L582.1,276.4 L582.4,279.0 L582.6,286.4 L582.8,273.1 L583.0,294.6 L583.3,282.5 L583.5,286.5 L583.7,271.7 L583.9,275.4 L584.1,274.3 L584.4,278.3 L584.6,263.0 L584.8,281.5 L585.0,265.5 L585.3,280.4 L585.5,285.1 L585.7,277.1 L585.9,276.2 L586.2,276.2 L586.4,275.7 L586.6,279.2 L586.8,283.9 L587.0,281.9 L587.3,288.0 L587.5,277.7 L587.7,273.1 L587.9,273.4 L588.2,267.6 L588.4,273.7 L588.6,272.1 L588.8,289.4 L589.1,280.0 L589.3,289.2 L589.5,262.1 L589.7,278.1 L589.9,283.3 L590.2,278.0 L590.4,272.1 L590.6,276.6 L590.8,276.0 L591.1,276.1 L591.3,276.9 L591.5,281.8 L591.7,276.4 L592.0,276.7 L592.2,274.6 L592.4,277.7 L592.6,269.1 L592.8,278.4 L593.1,271.7 L593.3,280.2 L593.5,269.5 L593.7,273.3 L594.0,272.3 L594.2,266.1 L594.4,280.9 L594.6,275.9 L594.9,273.3 L595.1,281.9 L595.3,270.4 L595.5,272.5 L595.7,280.5 L596.0,290.1 L596.2,272.9 L596.4,283.9 L596.6,273.3 L596.9,266.0 L597.1,275.4 L597.3,280.6 L597.5,272.9 L597.8,274.7 L598.0,263.3 L598.2,254.5 L598.4,272.5 L598.6,260.1 L598.9,269.8 L599.1,265.3 L599.3,270.9 L599.5,275.8 L599.8,257.2 L600.0,268.0 L600.2,267.8 L600.4,278.4 L600.7,268.9 L600.9,262.2 L601.1,263.7 L601.3,280.8 L601.5,261.1 L601.8,267.7 L602.0,269.0 L602.2,258.6 L602.4,260.7 L602.7,252.1 L602.9,259.7 L603.1,270.8 L603.3,267.4 L603.6,251.9 L603.8,275.9 L604.0,255.6 L604.2,258.1 L604.4,276.5 L604.7,268.0 L604.9,263.9 L605.1,275.1 L605.3,263.5 L605.6,266.4 L605.8,259.5 L606.0,262.5 L606.2,262.7 L606.4,271.0 L606.7,258.2 L606.9,261.1 L607.1,246.6 L607.3,249.7 L607.6,266.9 L607.8,258.8 L608.0,258.8 L608.2,265.5 L608.5,258.4 L608.7,261.3 L608.9,258.3 L609.1,245.5 L609.3,264.3 L609.6,270.4 L609.8,267.9 L610.0,259.5 L610.2,260.7 L610.5,261.4 L610.7,269.3 L610.9,266.7 L611.1,255.3 L611.4,256.6 L611.6,255.8 L611.8,252.8 L612.0,252.3 L612.2,255.5 L612.5,238.7 L612.7,258.6 L612.9,252.3 L613.1,246.5 L613.4,253.5 L613.6,249.1 L613.8,262.8 L614.0,245.7 L614.3,253.9 L614.5,255.5 L614.7,246.6 L614.9,243.3 L615.1,254.6 L615.4,248.6 L615.6,244.4 L615.8,240.4 L616.0,254.9 L616.3,261.0 L616.5,246.0 L616.7,253.2 L616.9,256.9 L617.2,255.9 L617.4,244.0 L617.6,251.5 L617.8,252.2 L618.0,265.1 L618.3,247.9 L618.5,253.5 L618.7,251.4 L618.9,249.8 L619.2,237.5 L619.4,246.3 L619.6,254.5 L619.8,240.7 L620.1,244.5 L620.3,236.6 L620.5,243.5 L620.7,243.4 L620.9,245.2 L621.2,236.8 L621.4,235.9 L621.6,234.2 L621.8,239.5 L622.1,238.2 L622.3,252.2 L622.5,231.1 L622.7,239.8 L623.0,230.4 L623.2,230.2 L623.4,240.5 L623.6,235.2 L623.8,235.3 L624.1,221.4 L624.3,248.5 L624.5,244.2 L624.7,223.7 L625.0,218.5 L625.2,222.2 L625.4,228.2 L625.6,219.2 L625.9,227.1 L626.1,219.7 L626.3,243.2 L626.5,221.3 L626.7,219.0 L627.0,235.7 L627.2,223.1 L627.4,220.1 L627.6,219.0 L627.9,222.6 L628.1,214.7 L628.3,217.5 L628.5,211.8 L628.7,205.1 L629.0,211.3 L629.2,213.7 L629.4,222.7 L629.6,212.0 L629.9,206.9 L630.1,209.2 L630.3,211.5 L630.5,190.3 L630.8,202.2 L631.0,188.9 L631.2,190.3 L631.4,195.9 L631.6,198.6 L631.9,198.3 L632.1,197.3 L632.3,204.1 L632.5,196.5 L632.8,194.5 L633.0,191.0 L633.6,180.0 L634.2,170.0 L634.6,158.0 L634.9,150.0 L635.5,150.5 L636.6,160.0 L637.8,170.0 L639.0,181.0 L641.4,189.0 L642.6,199.0 L643.2,210.0 L643.5,221.2 L643.7,207.0 L643.9,231.8 L644.1,214.4 L644.4,215.2 L644.6,221.2 L644.8,220.2 L645.0,218.6 L645.3,208.0 L645.5,226.4 L645.7,225.7 L645.9,218.1 L646.1,212.9 L646.4,223.5 L646.6,229.9 L646.8,209.9 L647.0,214.7 L647.3,223.7 L647.5,217.7 L647.7,221.4 L647.9,223.5 L648.2,230.2 L648.4,230.6 L648.6,232.4 L648.8,232.3 L649.0,221.7 L649.3,209.5 L649.5,229.2 L649.7,230.6 L649.9,230.9 L650.2,222.9 L650.4,241.1 L650.6,215.3 L650.8,232.8 L651.0,231.3 L651.3,233.2 L651.5,236.3 L651.7,229.7 L651.9,228.3 L652.2,223.7 L652.4,231.0 L652.6,228.1 L652.8,230.8 L653.1,216.9 L653.3,214.9 L653.5,226.8 L653.7,230.8 L653.9,216.8 L654.2,221.2 L654.4,226.6 L654.6,231.9 L654.8,232.7" fill="none" stroke="#0000ff" stroke-width="2.4" stroke-linejoin="round"/>
<path d="M98.8,376 L99.3,368 L100.3,335 L101.1,230 L101.4,14.9 L102.7,14.9 L103.0,230 L103.6,300 L104.2,340 L104.5,353.1 L104.7,348.7 L104.9,352.3 L105.2,355.5 L105.4,354.0 L105.6,358.4 L105.8,360.5 L106.1,351.7 L106.3,369.2 L106.5,367.6 L106.7,361.2 L107.0,364.8 L107.2,369.7 L107.4,366.0 L107.6,366.8 L107.8,360.0 L108.1,372.5 L108.3,370.3 L108.5,371.7 L108.7,361.3 L109.0,380.8 L109.2,372.1 L109.4,369.1 L109.6,383.8 L109.9,371.6 L110.1,363.4 L110.3,369.9 L110.5,358.8 L110.7,379.0 L111.0,370.5 L111.2,368.3 L111.4,378.8 L111.6,362.1 L111.9,374.9 L112.1,359.0 L112.3,367.1 L112.5,363.5 L112.8,379.1 L113.0,380.6 L113.2,367.6 L113.4,374.2 L113.6,367.6 L113.9,371.7 L114.1,363.3 L114.3,357.1 L114.5,356.1 L114.8,368.8 L115.0,379.5 L115.2,367.3 L115.4,362.1 L115.6,376.3 L115.9,365.9 L116.1,364.7 L116.3,365.2 L116.5,362.5 L116.8,361.0 L117.0,353.9 L117.2,365.1 L117.4,361.1 L117.7,368.4 L117.9,358.7 L118.1,349.0 L118.3,359.5 L118.5,369.9 L118.8,357.0 L119.0,353.6 L119.2,351.3 L119.4,351.8 L119.7,355.8 L119.9,350.0 L120.1,365.5 L120.3,354.3 L120.6,356.1 L120.8,363.5 L121.0,363.4 L121.2,352.5 L121.4,355.2 L121.7,357.1 L121.9,351.0 L122.1,340.9 L122.3,355.0 L122.6,355.9 L122.8,352.5 L123.0,343.9 L123.2,347.7 L123.5,344.8 L123.7,346.0 L123.9,355.0 L124.1,355.9 L124.3,350.2 L124.6,348.9 L124.8,349.2 L125.0,344.5 L125.2,343.5 L125.5,339.4 L125.7,342.6 L125.9,355.9 L126.1,347.0 L126.4,339.2 L126.6,337.9 L126.8,335.0 L127.0,341.9 L127.2,341.5 L127.5,329.9 L127.7,340.9 L127.9,334.5 L128.1,346.3 L128.4,338.5 L128.6,347.8 L128.8,334.6 L129.0,335.5 L129.3,338.9 L129.5,343.3 L129.7,340.2 L129.9,329.3 L130.1,337.6 L130.4,336.5 L130.6,333.7 L130.8,332.2 L131.0,346.3 L131.3,332.6 L131.5,329.0 L131.7,337.0 L131.9,333.1 L132.2,330.9 L132.4,335.2 L132.6,332.5 L132.8,330.9 L133.0,334.0 L133.3,330.8 L133.5,326.3 L133.7,328.7 L133.9,328.6 L134.2,333.9 L134.4,327.1 L134.6,323.4 L134.8,335.8 L135.1,328.0 L135.3,324.5 L135.5,338.6 L135.7,332.3 L135.9,339.7 L136.2,333.7 L136.4,330.4 L136.6,329.8 L136.8,334.4 L137.1,336.0 L137.3,332.9 L137.5,336.3 L137.7,329.0 L137.9,338.4 L138.2,327.8 L138.4,337.6 L138.6,343.1 L138.8,345.6 L139.1,349.5 L139.3,330.1 L139.5,344.2 L139.7,347.0 L140.0,345.8 L140.2,333.8 L140.4,341.1 L140.6,349.1 L140.8,328.2 L141.1,339.3 L141.3,342.4 L141.5,330.8 L141.7,337.7 L142.0,327.0 L142.2,327.8 L142.4,327.1 L142.6,331.6 L142.9,330.3 L143.1,327.6 L143.3,312.5 L143.5,302.3 L143.7,292.6 L144.0,280.2 L144.2,265.2 L144.4,263.2 L144.6,261.1 L144.9,262.7 L145.1,262.5 L145.3,264.2 L145.5,262.2 L145.8,258.7 L146.0,259.5 L146.2,265.6 L146.4,266.4 L146.6,271.5 L146.9,272.5 L147.1,273.2 L147.3,279.1 L147.5,278.2 L147.8,278.6 L148.0,288.5 L148.2,286.2 L148.4,295.8 L148.7,301.4 L148.9,305.0 L149.1,306.7 L149.3,316.6 L149.5,317.2 L149.8,322.4 L150.0,329.2 L150.2,332.3 L150.4,332.3 L150.7,337.5 L150.9,330.9 L151.1,333.4 L151.3,328.5 L151.6,334.3 L151.8,340.7 L152.0,336.2 L152.2,341.7 L152.4,336.3 L152.7,337.1 L152.9,341.8 L153.1,341.3 L153.3,346.9 L153.6,345.3 L153.8,355.6 L154.0,344.7 L154.2,344.9 L154.5,340.2 L154.7,346.8 L154.9,351.0 L155.1,342.7 L155.3,347.1 L155.6,351.9 L155.8,347.1 L156.0,344.9 L156.2,354.1 L156.5,349.1 L156.7,351.1 L156.9,356.0 L157.1,356.0 L157.4,347.3 L157.6,346.5 L157.8,351.6 L158.0,349.3 L158.2,338.9 L158.5,358.2 L158.7,350.9 L158.9,355.4 L159.1,344.2 L159.4,359.2 L159.6,348.1 L159.8,351.2 L160.0,343.7 L160.2,351.3 L160.5,351.2 L160.7,351.6 L160.9,355.5 L161.1,353.4 L161.4,359.0 L161.6,350.5 L161.8,347.5 L162.0,353.5 L162.3,357.5 L162.5,361.4 L162.7,358.9 L162.9,343.6 L163.1,356.6 L163.4,363.3 L163.6,355.0 L163.8,351.7 L164.0,356.8 L164.3,352.1 L164.5,359.1 L164.7,355.3 L164.9,363.9 L165.2,358.7 L165.4,351.5 L165.6,359.6 L165.8,361.8 L166.0,352.9 L166.3,353.9 L166.5,342.8 L166.7,362.0 L166.9,353.1 L167.2,343.9 L167.4,346.0 L167.6,355.3 L167.8,361.2 L168.1,356.1 L168.3,359.4 L168.5,350.0 L168.7,348.6 L168.9,361.9 L169.2,359.6 L169.4,356.4 L169.6,364.3 L169.8,350.9 L170.1,354.1 L170.3,362.8 L170.5,367.6 L170.7,356.7 L171.0,366.7 L171.2,353.0 L171.4,358.6 L171.6,355.6 L171.8,347.1 L172.1,358.1 L172.3,362.2 L172.5,355.7 L172.7,356.2 L173.0,365.0 L173.2,349.1 L173.4,347.6 L173.6,352.7 L173.9,349.4 L174.1,364.7 L174.3,358.5 L174.5,351.4 L174.7,352.9 L175.0,373.8 L175.2,352.9 L175.4,352.0 L175.6,358.4 L175.9,360.4 L176.1,357.9 L176.3,351.1 L176.5,349.6 L176.8,360.2 L177.0,356.3 L177.2,346.8 L177.4,363.6 L177.6,361.3 L177.9,355.2 L178.1,355.0 L178.3,358.0 L178.5,352.5 L178.8,348.5 L179.0,358.5 L179.2,348.0 L179.4,358.9 L179.7,348.0 L179.9,356.0 L180.1,355.8 L180.3,367.3 L180.5,350.2 L180.8,348.1 L181.0,352.7 L181.2,349.6 L181.4,352.6 L181.7,358.5 L181.9,360.3 L182.1,365.4 L182.3,350.8 L182.5,370.8 L182.8,366.7 L183.0,353.3 L183.2,340.6 L183.4,353.6 L183.7,354.3 L183.9,339.8 L184.1,353.9 L184.3,352.0 L184.6,348.2 L184.8,356.5 L185.0,358.5 L185.2,349.2 L185.4,353.1 L185.7,347.4 L185.9,346.2 L186.1,351.0 L186.3,353.3 L186.6,346.4 L186.8,336.1 L187.0,352.5 L187.2,339.0 L187.5,348.9 L187.7,358.5 L187.9,347.3 L188.1,339.9 L188.3,337.9 L188.6,353.3 L188.8,345.8 L189.0,348.7 L189.2,350.6 L189.5,344.4 L189.7,342.4 L189.9,338.2 L190.1,325.0 L190.4,334.0 L190.6,342.3 L190.8,341.3 L191.0,344.3 L191.2,340.3 L191.5,341.1 L191.7,344.0 L191.9,333.0 L192.1,335.7 L192.4,326.9 L192.6,341.5 L192.8,335.0 L193.0,336.8 L193.3,342.2 L193.5,338.6 L193.7,330.8 L193.9,335.0 L194.1,320.8 L194.4,331.1 L194.6,328.4 L194.8,316.8 L195.0,333.4 L195.3,320.1 L195.5,327.4 L195.7,319.7 L195.9,327.1 L196.2,327.9 L196.4,314.0 L196.6,308.7 L196.8,316.1 L197.0,321.4 L197.3,315.6 L197.5,315.8 L197.7,323.9 L197.9,306.0 L198.2,320.1 L198.4,317.4 L198.6,329.0 L198.8,324.4 L199.1,323.6 L199.3,329.3 L199.5,323.7 L199.7,333.5 L199.9,330.6 L200.2,333.6 L200.4,332.6 L200.6,343.5 L200.8,338.5 L201.1,343.1 L201.3,342.9 L201.5,335.2 L201.7,343.4 L202.0,342.1 L202.2,341.9 L202.4,337.6 L202.6,337.4 L202.8,344.7 L203.1,353.1 L203.3,335.0 L203.5,343.2 L203.7,337.8 L204.0,344.7 L204.2,342.6 L204.4,346.4 L204.6,323.2 L204.8,336.4 L205.1,334.1 L205.3,339.4 L205.5,335.7 L205.7,336.2 L206.0,344.1 L206.2,351.4 L206.4,323.1 L206.6,338.1 L206.9,341.9 L207.1,340.0 L207.3,337.9 L207.5,331.9 L207.7,334.3 L208.0,344.3 L208.2,346.5 L208.4,340.6 L208.6,335.0 L208.9,340.6 L209.1,338.6 L209.3,343.3 L209.5,340.7 L209.8,336.0 L210.0,340.7 L210.2,332.2 L210.4,344.0 L210.6,345.9 L210.9,331.6 L211.1,340.9 L211.3,332.2 L211.5,344.4 L211.8,343.2 L212.0,336.1 L212.2,343.3 L212.4,334.5 L212.7,333.0 L212.9,333.2 L213.1,335.6 L213.3,334.2 L213.5,337.0 L213.8,332.5 L214.0,340.9 L214.2,342.5 L214.4,333.6 L214.7,328.1 L214.9,341.1 L215.1,343.8 L215.3,336.1 L215.6,329.5 L215.8,338.9 L216.0,346.6 L216.2,326.3 L216.4,340.6 L216.7,335.9 L216.9,332.8 L217.1,341.2 L217.3,330.9 L217.6,340.9 L217.8,347.4 L218.0,341.0 L218.2,335.1 L218.5,330.1 L218.7,333.5 L218.9,330.6 L219.1,351.7 L219.3,341.0 L219.6,336.6 L219.8,335.6 L220.0,337.4 L220.2,342.2 L220.5,336.9 L220.7,355.1 L220.9,341.0 L221.1,341.2 L221.4,348.2 L221.6,355.5 L221.8,354.9 L222.0,344.1 L222.2,348.5 L222.5,347.9 L222.7,350.2 L222.9,348.5 L223.1,341.3 L223.4,339.4 L223.6,348.1 L223.8,339.9 L224.0,355.2 L224.3,347.2 L224.5,340.8 L224.7,345.1 L224.9,344.0 L225.1,346.2 L225.4,352.7 L225.6,338.3 L225.8,335.8 L226.0,348.9 L226.3,345.0 L226.5,346.2 L226.7,347.1 L226.9,342.5 L227.1,347.6 L227.4,336.6 L227.6,341.5 L227.8,335.3 L228.0,332.7 L228.3,342.4 L228.5,341.3 L228.7,325.4 L228.9,329.5 L229.2,338.0 L229.4,343.1 L229.6,333.1 L229.8,336.3 L230.0,329.4 L230.3,353.3 L230.5,341.5 L230.7,344.4 L230.9,343.3 L231.2,345.4 L231.4,343.8 L231.6,338.6 L231.8,345.4 L232.1,341.8 L232.3,349.5 L232.5,337.7 L232.7,339.3 L232.9,346.9 L233.2,350.2 L233.4,342.7 L233.6,336.9 L233.8,339.8 L234.1,336.8 L234.3,350.5 L234.5,343.8 L234.7,345.4 L235.0,338.9 L235.2,333.1 L235.4,342.8 L235.6,345.0 L235.8,337.9 L236.1,333.6 L236.3,339.6 L236.5,330.2 L236.7,336.3 L237.0,326.8 L237.2,324.6 L237.4,333.1 L237.6,331.1 L237.9,339.8 L238.1,326.0 L238.3,327.2 L238.5,319.5 L238.7,314.5 L239.0,314.3 L239.2,327.1 L239.4,316.9 L239.6,330.7 L239.9,332.4 L240.1,322.2 L240.3,333.8 L240.5,325.2 L240.8,330.5 L241.0,322.4 L241.2,329.4 L241.4,318.0 L241.6,327.4 L241.9,320.8 L242.1,322.8 L242.3,327.3 L242.5,324.5 L242.8,323.0 L243.0,327.8 L243.2,328.2 L243.4,315.0 L243.7,326.6 L243.9,327.3 L244.1,318.7 L244.3,325.5 L244.5,315.2 L244.8,331.7 L245.0,321.6 L245.2,322.6 L245.4,330.1 L245.7,321.7 L245.9,325.8 L246.1,315.6 L246.3,318.1 L246.6,312.8 L246.8,319.5 L247.0,326.6 L247.2,321.4 L247.4,325.0 L247.7,313.2 L247.9,313.7 L248.1,315.8 L248.3,321.7 L248.6,320.0 L248.8,317.5 L249.0,320.9 L249.2,315.9 L249.4,316.3 L249.7,323.9 L249.9,312.2 L250.1,316.5 L250.3,324.7 L250.6,315.3 L250.8,318.5 L251.0,310.3 L251.2,325.3 L251.5,299.7 L251.7,306.0 L251.9,306.0 L252.1,321.6 L252.3,313.5 L252.6,309.4 L252.8,302.8 L253.0,312.2 L253.2,310.2 L253.5,304.9 L253.7,299.6 L253.9,301.5 L254.1,308.9 L254.4,309.0 L254.6,307.1 L254.8,305.3 L255.0,295.1 L255.2,305.5 L255.5,298.6 L255.7,304.5 L255.9,306.6 L256.1,299.3 L256.4,296.7 L256.6,308.3 L256.8,304.0 L257.0,297.6 L257.3,282.9 L257.5,300.2 L257.7,303.8 L257.9,307.1 L258.1,296.7 L258.4,297.3 L258.6,298.9 L258.8,306.9 L259.0,295.2 L259.3,302.0 L259.5,297.5 L259.7,305.0 L259.9,294.5 L260.2,306.4 L260.4,301.6 L260.6,303.6 L260.8,308.5 L261.0,312.6 L261.3,295.9 L261.5,312.5 L261.7,310.2 L261.9,305.1 L262.2,315.1 L262.4,307.6 L262.6,314.0 L262.8,302.4 L263.1,300.6 L263.3,312.9 L263.5,318.3 L263.7,308.9 L263.9,310.3 L264.2,301.9 L264.4,296.5 L264.6,302.9 L264.8,313.1 L265.1,292.7 L265.3,300.7 L265.5,291.9 L265.7,303.8 L266.0,308.2 L266.2,295.3 L266.4,300.1 L266.6,310.3 L266.8,301.6 L267.1,294.5 L267.3,293.8 L267.5,289.4 L267.7,305.9 L268.0,296.6 L268.2,306.8 L268.4,305.2 L268.6,295.5 L268.9,295.7 L269.1,303.0 L269.3,298.7 L269.5,298.8 L269.7,286.8 L270.0,301.5 L270.2,290.3 L270.4,281.4 L270.6,290.7 L270.9,296.4 L271.1,305.9 L271.3,290.5 L271.5,284.2 L271.7,304.4 L272.0,292.0 L272.2,288.9 L272.4,283.5 L272.6,283.4 L272.9,297.7 L273.1,286.7 L273.3,284.5 L273.5,284.1 L273.8,296.0 L274.0,282.5 L274.2,289.5 L274.4,287.0 L274.6,286.5 L274.9,279.5 L275.1,288.4 L275.3,293.7 L275.5,283.4 L275.8,277.9 L276.0,275.4 L276.2,283.9 L276.4,280.8 L276.7,281.5 L276.9,281.9 L277.1,272.6 L277.3,285.9 L277.5,282.3 L277.8,280.1 L278.0,281.6 L278.2,285.4 L278.4,279.9 L278.7,274.1 L278.9,285.9 L279.1,276.0 L279.3,273.9 L279.6,268.6 L279.8,277.7 L280.0,271.0 L280.2,273.9 L280.4,279.6 L280.7,277.0 L280.9,282.8 L281.1,278.4 L281.3,274.0 L281.6,274.4 L281.8,273.2 L282.0,280.0 L282.2,276.1 L282.5,273.4 L282.7,280.9 L282.9,276.2 L283.1,272.8 L283.3,266.4 L283.6,278.0 L283.8,276.7 L284.0,275.4 L284.2,272.4 L284.5,269.9 L284.7,273.4 L284.9,276.1 L285.1,273.8 L285.4,273.6 L285.6,271.5 L285.8,276.3 L286.0,275.6 L286.2,269.5 L286.5,278.6 L286.7,278.6 L286.9,278.7 L287.1,272.8 L287.4,272.3 L287.6,266.2 L287.8,277.9 L288.0,259.9 L288.3,270.6 L288.5,270.8 L288.7,278.2 L288.9,272.7 L289.1,266.6 L289.4,263.5 L289.6,267.8 L289.8,273.0 L290.0,272.5 L290.3,270.8 L290.5,267.3 L290.7,269.3 L290.9,276.1 L291.2,261.6 L291.4,267.9 L291.6,277.2 L291.8,269.3 L292.0,261.8 L292.3,268.1 L292.5,257.9 L292.7,261.9 L292.9,271.0 L293.2,272.3 L293.4,247.7 L293.6,262.5 L293.8,269.8 L294.0,252.4 L294.3,256.7 L294.5,264.0 L294.7,248.8 L294.9,253.1 L295.2,247.8 L295.4,233.3 L295.6,246.5 L295.8,241.0 L296.1,246.6 L296.3,252.5 L296.5,241.0 L296.7,231.9 L296.9,235.5 L297.2,232.4 L297.4,236.9 L297.6,218.8 L297.8,219.5 L298.1,212.2 L298.3,229.3 L298.5,225.1 L298.7,221.0 L299.0,220.6 L299.2,221.9 L299.4,219.9 L299.6,224.9 L299.8,224.5 L300.1,238.5 L300.3,231.9 L300.5,224.7 L300.7,227.1 L301.0,240.4 L301.2,236.0 L301.4,235.7 L301.6,239.5 L301.9,246.3 L302.1,227.5 L302.3,231.6 L302.5,225.4 L302.7,241.8 L303.0,236.4 L303.2,235.2 L303.4,235.3 L303.6,246.2 L303.9,241.2 L304.1,239.2 L304.3,252.5 L304.5,237.2 L304.8,236.4 L305.0,264.2 L305.2,244.2 L305.4,243.8 L305.6,243.3 L305.9,248.2 L306.1,255.4 L306.3,255.9 L306.5,255.2 L306.8,250.2 L307.0,242.3 L307.2,255.4 L307.4,264.6 L307.7,262.1 L307.9,254.0 L308.1,261.4 L308.3,253.7 L308.5,256.6 L308.8,249.0 L309.0,256.0 L309.2,259.8 L309.4,258.2 L309.7,265.4 L309.9,273.6 L310.1,269.5 L310.3,258.1 L310.6,255.0 L310.8,255.5 L311.0,253.1 L311.2,260.1 L311.4,262.7 L311.7,261.0 L311.9,261.0 L312.1,260.6 L312.3,258.5 L312.6,254.1 L312.8,271.3 L313.0,266.5 L313.2,252.7 L313.5,252.7 L313.7,254.8 L313.9,259.1 L314.1,267.6 L314.3,265.8 L314.6,266.0 L314.8,266.1 L315.0,266.1 L315.2,263.0 L315.5,260.6 L315.7,256.0 L315.9,244.2 L316.1,255.0 L316.3,268.0 L316.6,251.1 L316.8,250.0 L317.0,261.0 L317.2,254.0 L317.5,249.5 L317.7,263.3 L317.9,256.3 L318.1,256.7 L318.4,247.0 L318.6,253.9 L318.8,252.5 L319.0,254.8 L319.2,257.0 L319.5,256.3 L319.7,249.1 L319.9,252.2 L320.1,238.9 L320.4,250.9 L320.6,250.7 L320.8,242.7 L321.0,239.5 L321.3,243.6 L321.5,234.6 L321.7,244.6 L321.9,243.4 L322.1,233.8 L322.4,239.8 L322.6,246.1 L322.8,245.2 L323.0,243.9 L323.3,234.9 L323.5,232.7 L323.7,231.4 L323.9,237.4 L324.2,248.8 L324.4,241.3 L324.6,241.7 L324.8,239.2 L325.0,217.3 L325.3,225.4 L325.5,222.0 L325.7,232.0 L325.9,233.3 L326.2,215.1 L326.4,218.2 L326.6,220.1 L326.8,211.1 L327.1,208.4 L327.3,206.4 L327.5,218.5 L327.7,207.5 L327.9,223.3 L328.2,217.4 L328.4,223.6 L328.6,230.7 L328.8,216.7 L329.1,217.2 L329.3,227.5 L329.5,218.8 L329.7,221.4 L330.0,226.1 L330.2,228.5 L330.4,219.1 L330.6,225.6 L330.8,232.8 L331.1,238.6 L331.3,215.9 L331.5,239.2 L331.7,236.7 L332.0,223.4 L332.2,221.2 L332.4,234.8 L332.6,229.4 L332.9,233.8 L333.1,239.3 L333.3,231.1 L333.5,235.3 L333.7,237.9 L334.0,241.3 L334.2,247.8 L334.4,247.9 L334.6,238.1 L334.9,235.3 L335.1,253.9 L335.3,242.3 L335.5,240.9 L335.8,230.0 L336.0,242.9 L336.2,231.8 L336.4,233.8 L336.6,227.5 L336.9,232.9 L337.1,236.8 L337.3,225.7 L337.5,229.7 L337.8,235.1 L338.0,226.7 L338.2,226.5 L338.4,229.2 L338.6,225.0 L338.9,238.9 L339.1,227.4 L339.3,239.5 L339.5,240.4 L339.8,225.4 L340.0,233.8 L340.2,229.9 L340.4,225.1 L340.7,230.5 L340.9,230.9 L341.1,237.3 L341.3,239.3 L341.5,224.0 L341.8,227.5 L342.0,232.6 L342.2,235.8 L342.4,209.1 L342.7,233.7 L342.9,222.2 L343.1,232.7 L343.3,217.7 L343.6,213.4 L343.8,218.2 L344.0,224.6 L344.2,215.3 L344.4,197.2 L344.7,216.7 L344.9,198.9 L345.1,201.6 L345.3,198.6 L345.6,192.1 L345.8,194.5 L346.0,194.6 L346.2,195.6 L346.5,198.5 L346.7,195.5 L346.9,186.5 L347.1,194.5 L347.3,202.0 L347.6,202.5 L347.8,197.6 L348.0,201.7 L348.2,204.4 L348.5,208.4 L348.7,211.7 L348.9,198.7 L349.1,200.1 L349.4,213.3 L349.6,215.0 L349.8,215.9 L350.0,189.8 L350.2,205.7 L350.5,185.9 L350.7,215.0 L350.9,211.7 L351.1,213.0 L351.4,213.7 L351.6,225.8 L351.8,217.1 L352.0,228.4 L352.3,227.3 L352.5,228.5 L352.7,232.3 L352.9,233.0 L353.1,228.0 L353.4,243.3 L353.6,246.3 L353.8,243.7 L354.0,252.6 L354.3,256.8 L354.5,245.2 L354.7,255.6 L354.9,256.5 L355.2,256.4 L355.4,267.3 L355.6,262.6 L355.8,268.1 L356.0,275.2 L356.3,278.5 L356.5,280.8 L356.7,295.7 L356.9,280.6 L357.2,288.0 L357.4,280.9 L357.6,293.4 L357.8,299.3 L358.1,301.3 L358.3,291.3 L358.5,295.2 L358.7,305.7 L358.9,298.0 L359.2,305.3 L359.4,294.0 L359.6,309.5 L359.8,308.1 L360.1,305.3 L360.3,298.3 L360.5,303.0 L360.7,305.2 L360.9,306.2 L361.2,304.2 L361.4,303.8 L361.6,306.6 L361.8,314.3 L362.1,293.5 L362.3,297.7 L362.5,296.9 L362.7,302.5 L363.0,296.3 L363.2,310.8 L363.4,308.2 L363.6,306.3 L363.8,304.0 L364.1,309.4 L364.3,309.9 L364.5,311.1 L364.7,304.8 L365.0,313.6 L365.2,300.8 L365.4,317.9 L365.6,291.3 L365.9,307.1 L366.1,303.6 L366.3,316.2 L366.5,302.4 L366.7,323.2 L367.0,302.6 L367.2,325.1 L367.4,315.5 L367.6,313.2 L367.9,315.9 L368.1,327.1 L368.3,319.2 L368.5,300.0 L368.8,321.5 L369.0,315.7 L369.2,304.4 L369.4,319.4 L369.6,307.3 L369.9,316.2 L370.1,316.7 L370.3,311.4 L370.5,319.7 L370.8,309.5 L371.0,317.3 L371.2,312.9 L371.4,315.3 L371.7,328.7 L371.9,317.6 L372.1,310.3 L372.3,316.5 L372.5,312.6 L372.8,317.6 L373.0,318.6 L373.2,318.3 L373.4,318.4 L373.7,314.6 L373.9,321.0 L374.1,324.9 L374.3,314.6 L374.6,318.2 L374.8,319.1 L375.0,326.7 L375.2,325.7 L375.4,314.6 L375.7,319.7 L375.9,310.1 L376.1,313.5 L376.3,319.6 L376.6,323.5 L376.8,325.5 L377.0,317.7 L377.2,311.2 L377.5,322.1 L377.7,318.6 L377.9,322.3 L378.1,320.7 L378.3,324.2 L378.6,323.9 L378.8,325.1 L379.0,316.9 L379.2,326.0 L379.5,316.7 L379.7,320.4 L379.9,331.5 L380.1,322.2 L380.4,312.7 L380.6,329.3 L380.8,326.2 L381.0,327.1 L381.2,321.3 L381.5,322.2 L381.7,318.6 L381.9,315.7 L382.1,329.7 L382.4,317.9 L382.6,317.2 L382.8,317.4 L383.0,331.9 L383.2,325.7 L383.5,318.0 L383.7,320.0 L383.9,323.5 L384.1,325.8 L384.4,310.3 L384.6,326.0 L384.8,319.0 L385.0,316.1 L385.3,318.0 L385.5,325.4 L385.7,331.5 L385.9,321.3 L386.1,323.8 L386.4,315.1 L386.6,323.2 L386.8,325.1 L387.0,310.6 L387.3,316.6 L387.5,324.6 L387.7,308.6 L387.9,317.1 L388.2,323.1 L388.4,308.7 L388.6,316.7 L388.8,319.4 L389.0,324.5 L389.3,310.8 L389.5,325.7 L389.7,320.6 L389.9,326.0 L390.2,325.7 L390.4,320.5 L390.6,321.3 L390.8,307.2 L391.1,309.6 L391.3,311.6 L391.5,315.6 L391.7,323.6 L391.9,306.4 L392.2,315.5 L392.4,309.1 L392.6,307.5 L392.8,326.5 L393.1,317.7 L393.3,327.3 L393.5,324.3 L393.7,311.0 L394.0,305.1 L394.2,329.6 L394.4,313.9 L394.6,309.2 L394.8,320.6 L395.1,317.0 L395.3,311.9 L395.5,313.8 L395.7,316.9 L396.0,316.2 L396.2,320.3 L396.4,313.2 L396.6,313.1 L396.9,318.8 L397.1,316.8 L397.3,321.6 L397.5,312.9 L397.7,313.7 L398.0,306.9 L398.2,323.4 L398.4,305.0 L398.6,314.9 L398.9,307.8 L399.1,315.4 L399.3,317.7 L399.5,302.6 L399.8,311.4 L400.0,301.5 L400.2,321.2 L400.4,309.4 L400.6,302.1 L400.9,307.4 L401.1,319.9 L401.3,320.8 L401.5,319.3 L401.8,306.2 L402.0,310.0 L402.2,321.0 L402.4,306.0 L402.7,308.3 L402.9,304.2 L403.1,302.7 L403.3,317.4 L403.5,313.6 L403.8,312.3 L404.0,313.0 L404.2,315.6 L404.4,318.5 L404.7,308.7 L404.9,306.5 L405.1,302.0 L405.3,315.1 L405.5,304.8 L405.8,298.5 L406.0,306.0 L406.2,307.8 L406.4,312.8 L406.7,313.8 L406.9,302.7 L407.1,302.2 L407.3,305.1 L407.6,299.4 L407.8,306.3 L408.0,309.8 L408.2,307.1 L408.4,296.5 L408.7,299.1 L408.9,314.7 L409.1,300.1 L409.3,311.0 L409.6,310.3 L409.8,304.2 L410.0,299.8 L410.2,307.3 L410.5,300.3 L410.7,304.7 L410.9,306.4 L411.1,301.1 L411.3,304.1 L411.6,303.5 L411.8,297.6 L412.0,304.1 L412.2,301.2 L412.5,293.6 L412.7,302.9 L412.9,303.2 L413.1,301.0 L413.4,291.7 L413.6,309.6 L413.8,308.9 L414.0,308.6 L414.2,306.5 L414.5,296.4 L414.7,305.0 L414.9,298.3 L415.1,317.9 L415.4,300.7 L415.6,308.1 L415.8,294.0 L416.0,296.2 L416.3,300.2 L416.5,307.7 L416.7,306.4 L416.9,304.4 L417.1,290.5 L417.4,309.0 L417.6,295.6 L417.8,311.3 L418.0,312.5 L418.3,305.6 L418.5,306.2 L418.7,291.6 L418.9,315.5 L419.2,300.2 L419.4,304.8 L419.6,292.6 L419.8,297.3 L420.0,289.8 L420.3,295.4 L420.5,296.7 L420.7,297.8 L420.9,304.7 L421.2,298.5 L421.4,296.6 L421.6,295.0 L421.8,307.1 L422.1,290.3 L422.3,301.1 L422.5,280.6 L422.7,286.6 L422.9,293.8 L423.2,289.3 L423.4,308.5 L423.6,304.9 L423.8,278.0 L424.1,280.0 L424.3,285.0 L424.5,296.0 L424.7,291.3 L425.0,285.3 L425.2,273.3 L425.4,276.1 L425.6,263.5 L425.8,269.9 L426.1,281.5 L426.3,282.9 L426.5,268.7 L426.7,276.9 L427.0,285.8 L427.2,275.8 L427.4,272.1 L427.6,277.2 L427.8,275.9 L428.1,272.4 L428.3,267.7 L428.5,267.7 L428.7,270.2 L429.0,265.4 L429.2,276.7 L429.4,273.1 L429.6,273.6 L429.9,278.9 L430.1,275.3 L430.3,273.5 L430.5,266.1 L430.7,261.8 L431.0,276.9 L431.2,257.3 L431.4,256.9 L431.6,254.6 L431.9,260.7 L432.1,261.3 L432.3,264.5 L432.5,255.7 L432.8,245.5 L433.0,258.3 L433.2,262.1 L433.4,255.8 L433.6,254.4 L433.9,258.6 L434.1,263.8 L434.3,253.9 L434.5,245.0 L434.8,250.1 L435.0,252.4 L435.2,241.6 L435.4,257.7 L435.7,247.6 L435.9,255.4 L436.1,253.1 L436.3,249.6 L436.5,261.6 L436.8,247.4 L437.0,246.7 L437.2,252.9 L437.4,256.4 L437.7,251.0 L437.9,244.7 L438.1,255.4 L438.3,254.9 L438.6,264.2 L438.8,249.6 L439.0,252.4 L439.2,247.4 L439.4,241.5 L439.7,251.5 L439.9,256.4 L440.1,244.5 L440.3,246.7 L440.6,243.5 L440.8,259.6 L441.0,247.0 L441.2,254.7 L441.5,245.5 L441.7,251.5 L441.9,247.0 L442.1,237.4 L442.3,254.4 L442.6,258.7 L442.8,243.4 L443.0,257.0 L443.2,256.8 L443.5,254.1 L443.7,260.8 L443.9,251.5 L444.1,266.9 L444.4,274.3 L444.6,260.1 L444.8,269.2 L445.0,280.1 L445.2,272.3 L445.5,268.7 L445.7,266.7 L445.9,274.2 L446.1,272.7 L446.4,278.1 L446.6,264.9 L446.8,282.0 L447.0,273.1 L447.3,280.3 L447.5,272.1 L447.7,268.9 L447.9,274.1 L448.1,272.2 L448.4,276.4 L448.6,283.5 L448.8,286.8 L449.0,281.7 L449.3,277.4 L449.5,278.5 L449.7,285.7 L449.9,289.8 L450.1,280.9 L450.4,282.7 L450.6,279.2 L450.8,285.9 L451.0,291.2 L451.3,266.5 L451.5,287.0 L451.7,282.0 L451.9,270.7 L452.2,287.8 L452.4,285.4 L452.6,288.5 L452.8,277.5 L453.0,300.2 L453.3,287.3 L453.5,284.5 L453.7,296.7 L453.9,291.2 L454.2,292.6 L454.4,294.8 L454.6,274.1 L454.8,298.4 L455.1,285.6 L455.3,289.8 L455.5,294.1 L455.7,283.7 L455.9,290.5 L456.2,293.5 L456.4,288.5 L456.6,292.1 L456.8,278.7 L457.1,281.5 L457.3,282.0 L457.5,292.1 L457.7,314.3 L458.0,292.0 L458.2,289.7 L458.4,290.5 L458.6,297.6 L458.8,296.2 L459.1,284.4 L459.3,298.8 L459.5,292.3 L459.7,298.1 L460.0,280.1 L460.2,283.3 L460.4,297.6 L460.6,282.3 L460.9,296.8 L461.1,296.8 L461.3,295.9 L461.5,297.5 L461.7,297.2 L462.0,298.7 L462.2,293.5 L462.4,296.3 L462.6,315.9 L462.9,304.5 L463.1,301.3 L463.3,300.2 L463.5,293.2 L463.8,299.7 L464.0,296.9 L464.2,305.1 L464.4,293.2 L464.6,284.0 L464.9,296.1 L465.1,304.7 L465.3,316.5 L465.5,307.3 L465.8,294.1 L466.0,299.1 L466.2,294.3 L466.4,299.4 L466.7,294.7 L466.9,289.9 L467.1,303.6 L467.3,302.0 L467.5,299.6 L467.8,303.1 L468.0,314.2 L468.2,301.6 L468.4,298.4 L468.7,306.6 L468.9,290.1 L469.1,305.9 L469.3,295.9 L469.6,295.6 L469.8,301.8 L470.0,312.1 L470.2,296.2 L470.4,307.4 L470.7,303.7 L470.9,292.0 L471.1,307.3 L471.3,295.7 L471.6,291.5 L471.8,296.0 L472.0,296.5 L472.2,305.3 L472.4,296.5 L472.7,311.3 L472.9,302.9 L473.1,296.7 L473.3,295.9 L473.6,303.0 L473.8,288.0 L474.0,287.1 L474.2,295.7 L474.5,305.8 L474.7,302.8 L474.9,301.8 L475.1,300.3 L475.3,287.2 L475.6,299.6 L475.8,289.9 L476.0,307.4 L476.2,301.8 L476.5,301.3 L476.7,304.6 L476.9,304.1 L477.1,303.5 L477.4,304.3 L477.6,298.1 L477.8,293.1 L478.0,304.3 L478.2,311.7 L478.5,308.8 L478.7,300.6 L478.9,306.2 L479.1,299.1 L479.4,304.7 L479.6,298.0 L479.8,303.1 L480.0,315.6 L480.3,307.4 L480.5,312.3 L480.7,297.0 L480.9,297.6 L481.1,302.0 L481.4,306.0 L481.6,300.9 L481.8,309.1 L482.0,298.6 L482.3,311.5 L482.5,308.9 L482.7,294.8 L482.9,306.3 L483.2,300.9 L483.4,309.3 L483.6,298.8 L483.8,304.5 L484.0,306.1 L484.3,283.8 L484.5,289.7 L484.7,303.3 L484.9,301.6 L485.2,309.3 L485.4,303.9 L485.6,293.7 L485.8,304.5 L486.1,297.1 L486.3,300.6 L486.5,298.6 L486.7,304.4 L486.9,292.3 L487.2,294.3 L487.4,286.7 L487.6,316.4 L487.8,294.9 L488.1,295.8 L488.3,293.7 L488.5,297.2 L488.7,298.5 L489.0,305.6 L489.2,302.6 L489.4,303.6 L489.6,297.2 L489.8,300.7 L490.1,309.5 L490.3,300.9 L490.5,303.1 L490.7,287.1 L491.0,304.4 L491.2,302.6 L491.4,309.6 L491.6,281.8 L491.9,300.8 L492.1,299.7 L492.3,301.1 L492.5,296.1 L492.7,301.8 L493.0,305.1 L493.2,300.5 L493.4,298.1 L493.6,298.6 L493.9,297.3 L494.1,300.2 L494.3,294.9 L494.5,286.1 L494.7,309.1 L495.0,287.6 L495.2,298.8 L495.4,290.5 L495.6,297.5 L495.9,292.7 L496.1,299.0 L496.3,293.5 L496.5,290.2 L496.8,301.3 L497.0,308.3 L497.2,301.4 L497.4,299.7 L497.6,291.6 L497.9,298.2 L498.1,301.8 L498.3,294.1 L498.5,304.8 L498.8,298.2 L499.0,300.9 L499.2,295.0 L499.4,294.9 L499.7,299.8 L499.9,300.9 L500.1,300.5 L500.3,291.0 L500.5,292.9 L500.8,297.8 L501.0,285.0 L501.2,305.1 L501.4,299.9 L501.7,298.0 L501.9,292.6 L502.1,303.3 L502.3,295.6 L502.6,310.7 L502.8,300.1 L503.0,286.9 L503.2,302.3 L503.4,293.5 L503.7,293.5 L503.9,295.4 L504.1,296.1 L504.3,298.7 L504.6,302.2 L504.8,300.0 L505.0,291.7 L505.2,287.2 L505.5,291.0 L505.7,299.1 L505.9,302.6 L506.1,309.1 L506.3,286.9 L506.6,296.9 L506.8,294.7 L507.0,293.4 L507.2,297.2 L507.5,294.4 L507.7,294.2 L507.9,291.5 L508.1,298.8 L508.4,303.4 L508.6,307.4 L508.8,292.1 L509.0,288.4 L509.2,293.9 L509.5,289.8 L509.7,302.9 L509.9,289.8 L510.1,296.1 L510.4,286.0 L510.6,293.0 L510.8,296.7 L511.0,306.2 L511.3,290.4 L511.5,297.9 L511.7,280.5 L511.9,286.6 L512.1,289.3 L512.4,291.5 L512.6,298.0 L512.8,299.4 L513.0,283.5 L513.3,298.6 L513.5,286.9 L513.7,307.8 L513.9,296.9 L514.2,295.7 L514.4,293.3 L514.6,294.3 L514.8,294.5 L515.0,289.5 L515.3,299.7 L515.5,296.3 L515.7,299.6 L515.9,293.8 L516.2,299.0 L516.4,288.7 L516.6,319.5 L516.8,289.0 L517.0,290.8 L517.3,300.8 L517.5,302.7 L517.7,288.2 L517.9,281.9 L518.2,283.8 L518.4,286.6 L518.6,288.0 L518.8,292.4 L519.1,300.9 L519.3,301.2 L519.5,289.1 L519.7,297.3 L519.9,299.7 L520.2,303.3 L520.4,292.1 L520.6,287.9 L520.8,298.5 L521.1,304.0 L521.3,289.3 L521.5,307.0 L521.7,305.3 L522.0,291.0 L522.2,281.6 L522.4,288.5 L522.6,290.2 L522.8,296.5 L523.1,280.6 L523.3,310.1 L523.5,309.4 L523.7,287.3 L524.0,279.0 L524.2,291.2 L524.4,295.4 L524.6,302.0 L524.9,297.4 L525.1,290.7 L525.3,277.9 L525.5,295.8 L525.7,298.1 L526.0,289.7 L526.2,293.9 L526.4,293.3 L526.6,290.0 L526.9,283.3 L527.1,294.1 L527.3,281.3 L527.5,301.7 L527.8,284.9 L528.0,294.9 L528.2,286.0 L528.4,294.0 L528.6,289.6 L528.9,295.0 L529.1,285.3 L529.3,279.1 L529.5,288.9 L529.8,288.3 L530.0,279.8 L530.2,285.7 L530.4,278.4 L530.7,291.4 L530.9,287.8 L531.1,290.5 L531.3,309.3 L531.5,291.4 L531.8,293.0 L532.0,294.7 L532.2,289.1 L532.4,285.7 L532.7,296.4 L532.9,297.4 L533.1,268.5 L533.3,288.6 L533.6,287.2 L533.8,285.5 L534.0,298.6 L534.2,285.6 L534.4,295.8 L534.7,285.4 L534.9,286.3 L535.1,294.6 L535.3,283.7 L535.6,287.9 L535.8,280.9 L536.0,282.5 L536.2,294.2 L536.5,293.1 L536.7,280.4 L536.9,280.0 L537.1,307.3 L537.3,283.8 L537.6,282.1 L537.8,292.2 L538.0,282.6 L538.2,285.6 L538.5,294.8 L538.7,295.5 L538.9,286.6 L539.1,297.9 L539.3,286.9 L539.6,286.1 L539.8,287.8 L540.0,285.5 L540.2,291.6 L540.5,289.7 L540.7,281.8 L540.9,288.8 L541.1,283.4 L541.4,283.1 L541.6,286.3 L541.8,294.8 L542.0,289.2 L542.2,296.5 L542.5,298.6 L542.7,286.7 L542.9,282.4 L543.1,281.0 L543.4,288.8 L543.6,293.1 L543.8,298.4 L544.0,276.9 L544.3,293.4 L544.5,294.4 L544.7,304.5 L544.9,287.7 L545.1,286.0 L545.4,274.9 L545.6,280.4 L545.8,277.9 L546.0,278.5 L546.3,279.3 L546.5,274.5 L546.7,285.2 L546.9,288.8 L547.2,291.5 L547.4,285.1 L547.6,293.7 L547.8,293.7 L548.0,274.4 L548.3,283.7 L548.5,276.4 L548.7,278.4 L548.9,287.0 L549.2,284.7 L549.4,296.6 L549.6,300.9 L549.8,288.7 L550.1,284.1 L550.3,284.4 L550.5,285.4 L550.7,289.8 L550.9,280.0 L551.2,289.8 L551.4,283.6 L551.6,293.3 L551.8,295.6 L552.1,298.4 L552.3,284.1 L552.5,275.1 L552.7,272.6 L553.0,283.1 L553.2,274.6 L553.4,272.8 L553.6,282.5 L553.8,277.7 L554.1,290.3 L554.3,299.7 L554.5,283.4 L554.7,287.4 L555.0,273.1 L555.2,286.4 L555.4,279.7 L555.6,276.7 L555.9,270.9 L556.1,297.0 L556.3,272.7 L556.5,275.7 L556.7,284.9 L557.0,287.0 L557.2,287.0 L557.4,285.6 L557.6,278.0 L557.9,290.6 L558.1,286.2 L558.3,273.7 L558.5,296.8 L558.8,282.1 L559.0,291.8 L559.2,273.6 L559.4,275.5 L559.6,280.2 L559.9,279.3 L560.1,292.2 L560.3,272.1 L560.5,285.7 L560.8,276.7 L561.0,288.3 L561.2,286.0 L561.4,280.2 L561.6,301.2 L561.9,284.0 L562.1,292.6 L562.3,274.2 L562.5,283.3 L562.8,284.9 L563.0,285.3 L563.2,281.6 L563.4,277.9 L563.7,260.6 L563.9,279.8 L564.1,277.1 L564.3,282.1 L564.5,290.6 L564.8,300.9 L565.0,288.0 L565.2,291.7 L565.4,288.7 L565.7,289.5 L565.9,288.4 L566.1,281.9 L566.3,281.4 L566.6,286.4 L566.8,297.5 L567.0,289.7 L567.2,295.9 L567.4,273.8 L567.7,285.6 L567.9,286.5 L568.1,287.4 L568.3,272.9 L568.6,269.3 L568.8,267.0 L569.0,280.1 L569.2,300.9 L569.5,284.6 L569.7,273.7 L569.9,285.4 L570.1,280.5 L570.3,284.0 L570.6,279.2 L570.8,272.7 L571.0,278.4 L571.2,287.8 L571.5,284.7 L571.7,291.6 L571.9,274.1 L572.1,290.1 L572.4,282.6 L572.6,283.5 L572.8,291.4 L573.0,280.9 L573.2,283.8 L573.5,286.6 L573.7,286.6 L573.9,287.8 L574.1,291.4 L574.4,285.6 L574.6,278.1 L574.8,300.0 L575.0,281.1 L575.3,284.2 L575.5,275.6 L575.7,264.6 L575.9,275.2 L576.1,281.5 L576.4,285.0 L576.6,281.1 L576.8,286.8 L577.0,288.3 L577.3,288.2 L577.5,280.6 L577.7,281.2 L577.9,278.8 L578.2,273.7 L578.4,291.1 L578.6,270.8 L578.8,279.6 L579.0,281.8 L579.3,263.8 L579.5,285.6 L579.7,277.2 L579.9,281.5 L580.2,277.2 L580.4,268.0 L580.6,281.1 L580.8,280.3 L581.1,287.0 L581.3,282.9 L581.5,266.5 L581.7,287.6 L581.9,285.2 L582.2,284.9 L582.4,282.7 L582.6,273.5 L582.8,282.9 L583.1,276.0 L583.3,300.6 L583.5,276.8 L583.7,270.1 L583.9,275.9 L584.2,289.3 L584.4,274.0 L584.6,259.6 L584.8,289.3 L585.1,280.5 L585.3,274.2 L585.5,283.3 L585.7,270.8 L586.0,268.8 L586.2,284.9 L586.4,273.7 L586.6,281.6 L586.8,277.5 L587.1,283.7 L587.3,278.1 L587.5,261.6 L587.7,282.2 L588.0,273.3 L588.2,283.5 L588.4,277.5 L588.6,287.3 L588.9,274.0 L589.1,260.6 L589.3,273.7 L589.5,279.9 L589.7,273.2 L590.0,272.1 L590.2,286.8 L590.4,274.3 L590.6,283.3 L590.9,276.3 L591.1,264.0 L591.3,267.8 L591.5,272.4 L591.8,277.0 L592.0,268.3 L592.2,263.6 L592.4,266.5 L592.6,270.1 L592.9,267.3 L593.1,269.4 L593.3,287.9 L593.5,275.7 L593.8,267.2 L594.0,273.2 L594.2,285.2 L594.4,278.0 L594.7,272.2 L594.9,262.5 L595.1,259.7 L595.3,269.9 L595.5,271.6 L595.8,259.9 L596.0,262.0 L596.2,271.7 L596.4,255.0 L596.7,258.6 L596.9,271.2 L597.1,275.7 L597.3,273.8 L597.6,278.8 L597.8,283.1 L598.0,277.8 L598.2,268.8 L598.4,286.9 L598.7,283.4 L598.9,277.6 L599.1,264.1 L599.3,273.2 L599.6,254.2 L599.8,267.4 L600.0,250.9 L600.2,266.4 L600.5,277.2 L600.7,269.4 L600.9,281.4 L601.1,268.9 L601.3,269.5 L601.6,266.2 L601.8,272.4 L602.0,267.9 L602.2,277.1 L602.5,280.0 L602.7,270.4 L602.9,258.9 L603.1,271.5 L603.4,277.4 L603.6,271.8 L603.8,268.9 L604.0,273.6 L604.2,276.3 L604.5,246.3 L604.7,277.5 L604.9,271.6 L605.1,269.2 L605.4,261.1 L605.6,266.9 L605.8,269.6 L606.0,253.5 L606.2,270.3 L606.5,265.0 L606.7,275.4 L606.9,269.2 L607.1,262.5 L607.4,264.1 L607.6,268.3 L607.8,264.3 L608.0,267.1 L608.3,257.3 L608.5,253.0 L608.7,257.9 L608.9,251.1 L609.1,255.8 L609.4,264.2 L609.6,248.8 L609.8,251.6 L610.0,266.3 L610.3,256.5 L610.5,260.2 L610.7,250.6 L610.9,251.8 L611.2,257.2 L611.4,271.7 L611.6,262.4 L611.8,246.0 L612.0,261.9 L612.3,265.3 L612.5,263.3 L612.7,248.5 L612.9,257.0 L613.2,273.3 L613.4,249.7 L613.6,259.0 L613.8,250.4 L614.1,246.1 L614.3,252.1 L614.5,262.9 L614.7,263.5 L614.9,247.6 L615.2,250.3 L615.4,246.8 L615.6,237.4 L615.8,257.5 L616.1,264.3 L616.3,263.5 L616.5,248.2 L616.7,261.5 L617.0,259.4 L617.2,248.0 L617.4,250.1 L617.6,246.8 L617.8,251.0 L618.1,262.5 L618.3,241.2 L618.5,238.7 L618.7,253.9 L619.0,247.2 L619.2,231.9 L619.4,238.1 L619.6,239.1 L619.9,240.2 L620.1,246.8 L620.3,251.3 L620.5,241.9 L620.7,243.6 L621.0,236.2 L621.2,249.0 L621.4,250.9 L621.6,238.1 L621.9,233.8 L622.1,254.6 L622.3,245.3 L622.5,230.8 L622.8,224.2 L623.0,234.2 L623.2,244.9 L623.4,231.1 L623.6,232.7 L623.9,230.2 L624.1,238.3 L624.3,243.5 L624.5,222.8 L624.8,229.6 L625.0,229.7 L625.2,226.0 L625.4,221.1 L625.7,235.9 L625.9,230.3 L626.1,234.1 L626.3,239.6 L626.5,224.8 L626.8,231.1 L627.0,223.4 L627.2,225.3 L627.4,227.9 L627.7,223.6 L627.9,212.9 L628.1,235.3 L628.3,224.4 L628.5,214.0 L628.8,205.4 L629.0,221.5 L629.2,225.9 L629.4,227.9 L629.7,228.0 L629.9,215.9 L630.1,223.0 L630.3,205.6 L630.6,217.8 L630.8,222.9 L631.0,210.5 L631.2,213.2 L631.4,214.5 L631.7,214.1 L631.9,223.6 L632.1,203.3 L632.3,221.0 L632.6,193.0 L633.2,185.0 L633.7,192.0 L634.3,176.0 L634.8,185.0 L635.3,163.0 L635.7,172.0 L636.0,150.0 L636.2,158.0 L636.2,135.0 L636.3,121.5 L637.4,119.5 L637.7,101.6 L638.0,119.5 L639.0,121.5 L639.2,136.0 L639.4,150.0 L639.9,142.0 L640.3,162.0 L640.8,152.0 L641.2,176.0 L641.8,164.0 L642.3,190.0 L642.8,180.0 L643.2,202.0 L643.3,219.5 L643.5,214.3 L643.7,214.8 L643.9,207.3 L644.2,206.8 L644.4,227.7 L644.6,233.6 L644.8,229.3 L645.1,234.5 L645.3,219.9 L645.5,223.9 L645.7,227.5 L645.9,223.7 L646.2,237.9 L646.4,215.5 L646.6,221.5 L646.8,223.5 L647.1,221.1 L647.3,233.2 L647.5,211.9 L647.7,236.1 L648.0,234.6 L648.2,230.5 L648.4,239.0 L648.6,246.5 L648.8,230.4 L649.1,234.9 L649.3,232.6 L649.5,233.9 L649.7,226.4 L650.0,225.1 L650.2,235.4 L650.4,227.0 L650.6,238.2 L650.8,237.3 L651.1,228.0 L651.3,234.3 L651.5,232.3 L651.7,230.8 L652.0,240.6 L652.2,232.4 L652.4,234.1 L652.6,217.7 L652.9,237.1 L653.1,221.8 L653.3,229.9 L653.5,245.2 L653.7,246.7 L654.0,230.3 L654.2,223.9 L654.4,236.6 L654.6,230.7" fill="none" stroke="#ff0000" stroke-width="2.4" stroke-linejoin="round"/>
<path d="M633.6,189 L635.3,165 L635.6,140 L635.5,122 L639.8,122 L640.4,140 L642.2,165 L643.4,189 L639.8,189 L638.7,170 L637.4,170 L636.4,189 Z" fill="#ff0000"/>
<g stroke="#000" stroke-width="2.3" fill="none">
<path d="M97.55,4 V415.9"/>
<path d="M96.4,415 H656"/>
</g>
<g stroke="#000" stroke-width="2.2" fill="none">
<path d="M88.2,14.6 H98"/>
<path d="M88.2,114.7 H98"/>
<path d="M88.2,214.8 H98"/>
<path d="M88.2,314.9 H98"/>
<path d="M88.2,415.0 H98"/>
<path d="M92.4,64.6 H98"/>
<path d="M92.4,164.8 H98"/>
<path d="M92.4,264.9 H98"/>
<path d="M92.4,364.9 H98"/>
<path d="M164.4,415 V424"/>
<path d="M253.5,415 V424"/>
<path d="M342.6,415 V424"/>
<path d="M431.8,415 V424"/>
<path d="M520.9,415 V424"/>
<path d="M610.0,415 V424"/>
<path d="M119.8,415 V419.9"/>
<path d="M209.0,415 V419.9"/>
<path d="M298.1,415 V419.9"/>
<path d="M387.2,415 V419.9"/>
<path d="M476.3,415 V419.9"/>
<path d="M565.4,415 V419.9"/>
<path d="M654.8,415 V419.9"/>
</g>
<g font-size="19.2">
<text x="50.3" y="20.1" textLength="32.6" lengthAdjust="spacingAndGlyphs">1,0</text>
<text x="50.3" y="119.4" textLength="32.6" lengthAdjust="spacingAndGlyphs">0,8</text>
<text x="50.3" y="219.5" textLength="32.6" lengthAdjust="spacingAndGlyphs">0,6</text>
<text x="50.3" y="319.6" textLength="32.6" lengthAdjust="spacingAndGlyphs">0,4</text>
<text x="50.3" y="419.7" textLength="32.6" lengthAdjust="spacingAndGlyphs">0,2</text>
<text x="145.0" y="443.2" textLength="38.8" lengthAdjust="spacingAndGlyphs">800</text>
<text x="227.6" y="443.2" textLength="51.8" lengthAdjust="spacingAndGlyphs">1200</text>
<text x="316.7" y="443.2" textLength="51.8" lengthAdjust="spacingAndGlyphs">1600</text>
<text x="405.9" y="443.2" textLength="51.8" lengthAdjust="spacingAndGlyphs">2000</text>
<text x="495.0" y="443.2" textLength="51.8" lengthAdjust="spacingAndGlyphs">2400</text>
<text x="584.1" y="443.2" textLength="51.8" lengthAdjust="spacingAndGlyphs">2800</text>
</g>
<g font-size="19">
<text x="278.8" y="483.2" textLength="123.6" lengthAdjust="spacingAndGlyphs">Raman shift</text>
<text x="410.2" y="485.0" font-size="23" font-weight="normal" stroke="#000" stroke-width="0.45">(</text>
<text x="420.2" y="483.2" textLength="30.4" lengthAdjust="spacingAndGlyphs">cm</text>
<text x="451.2" y="471.8" font-size="12" textLength="13" lengthAdjust="spacingAndGlyphs">-1</text>
<text x="464.3" y="485.0" font-size="23" font-weight="normal" stroke="#000" stroke-width="0.45">)</text>
<text transform="translate(19.2,302.3) rotate(-90)" textLength="195.6" lengthAdjust="spacingAndGlyphs">Normalized counts</text>
</g>
<g font-size="20.1">
<text x="190.6" y="64.1" textLength="149.6" lengthAdjust="spacingAndGlyphs">C-C vibrations</text>
<text x="122.3" y="91.6" textLength="286.2" lengthAdjust="spacingAndGlyphs">(dopamine's aromatic ring)</text>
<text x="374.9" y="156.4" textLength="147.7" lengthAdjust="spacingAndGlyphs">C-C vibrations</text>
<text x="403.7" y="184.5" textLength="88.9" lengthAdjust="spacingAndGlyphs">(alkyne)</text>
<text x="478" y="18.5" textLength="147.9" lengthAdjust="spacingAndGlyphs">C-H vibrations</text>
<text x="422" y="46.5" textLength="258.0" lengthAdjust="spacingAndGlyphs">(aliphatic hydrocarbons)</text>
</g>
<g font-size="18.4">
<text transform="translate(256.5,179.5) rotate(30)" textLength="53" lengthAdjust="spacingAndGlyphs">1410</text>
<text transform="translate(284.5,149.5) rotate(30)" textLength="53" lengthAdjust="spacingAndGlyphs">1532</text>
<text transform="translate(305.5,115.5) rotate(30)" textLength="53" lengthAdjust="spacingAndGlyphs">1625</text>
<text transform="translate(401.5,206.5) rotate(30)" textLength="53" lengthAdjust="spacingAndGlyphs">2024</text>
<text transform="translate(592.5,66.5) rotate(30)" textLength="53" lengthAdjust="spacingAndGlyphs">2925</text>
</g>
<text x="389.8" y="384.4" font-size="15" fill="#0000ff" textLength="184" lengthAdjust="spacingAndGlyphs">AgNPs+alkyne+DTT</text>
<text x="389.8" y="404.4" font-size="15" fill="#ff0000" textLength="281.8" lengthAdjust="spacingAndGlyphs">AgNPs+alkyne-dopamine+DTT</text>
</svg>
</body></html>
